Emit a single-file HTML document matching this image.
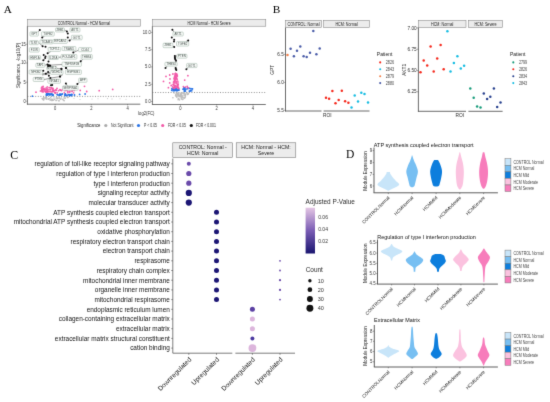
<!DOCTYPE html>
<html><head><meta charset="utf-8"><style>
html,body{margin:0;padding:0;background:#fff;}
body{width:550px;height:402px;overflow:hidden;font-family:"Liberation Sans", sans-serif;}
svg{display:block;}
</style></head><body>
<svg width="550" height="402" viewBox="0 0 550 402">
<defs><filter id="soft" x="0" y="0" width="550" height="402" filterUnits="userSpaceOnUse" color-interpolation-filters="sRGB"><feConvolveMatrix order="3" kernelMatrix="1 8 1 8 64 8 1 8 1" divisor="100" edgeMode="duplicate"/></filter></defs>
<g filter="url(#soft)">
<rect width="550" height="402" fill="#fff"/>
<text x="3.80" y="12.80" font-size="11.2" text-anchor="start" fill="#000" font-family='"Liberation Serif", serif' >A</text>
<text x="272.70" y="12.80" font-size="11.3" text-anchor="start" fill="#000" font-family='"Liberation Serif", serif' >B</text>
<text x="10.30" y="158.90" font-size="11.8" text-anchor="start" fill="#000" font-family='"Liberation Serif", serif' >C</text>
<text x="345.90" y="158.30" font-size="11.5" text-anchor="start" fill="#000" font-family='"Liberation Serif", serif' >D</text>
<rect x="27.40" y="19.60" width="112.90" height="6.60" fill="#ececec" stroke="#7a7a7a" stroke-width="0.5" />
<text x="0.00" y="0.00" font-size="4.5" text-anchor="middle" fill="#222" font-family='"Liberation Sans", sans-serif' transform="translate(83.85,24.52) scale(0.7778,1)" >CONTROL Normal - HCM Normal</text>
<line x1="27.40" y1="26.20" x2="27.40" y2="104.60" stroke="#5a5a5a" stroke-width="0.85" />
<line x1="27.00" y1="104.20" x2="140.30" y2="104.20" stroke="#5a5a5a" stroke-width="0.85" />
<line x1="26.20" y1="44.30" x2="27.40" y2="44.30" stroke="#444" stroke-width="0.5" />
<text x="0.00" y="0.00" font-size="4.5" text-anchor="end" fill="#333" font-family='"Liberation Sans", sans-serif' transform="translate(25.80,45.75) scale(0.9111,1)" >15</text>
<line x1="26.20" y1="63.00" x2="27.40" y2="63.00" stroke="#444" stroke-width="0.5" />
<text x="0.00" y="0.00" font-size="4.5" text-anchor="end" fill="#333" font-family='"Liberation Sans", sans-serif' transform="translate(25.80,64.45) scale(0.9111,1)" >10</text>
<line x1="26.20" y1="82.20" x2="27.40" y2="82.20" stroke="#444" stroke-width="0.5" />
<text x="0.00" y="0.00" font-size="4.5" text-anchor="end" fill="#333" font-family='"Liberation Sans", sans-serif' transform="translate(25.80,83.65) scale(0.9111,1)" >5</text>
<line x1="26.20" y1="101.20" x2="27.40" y2="101.20" stroke="#444" stroke-width="0.5" />
<text x="0.00" y="0.00" font-size="4.5" text-anchor="end" fill="#333" font-family='"Liberation Sans", sans-serif' transform="translate(25.80,102.65) scale(0.9111,1)" >0</text>
<line x1="55.20" y1="104.20" x2="55.20" y2="105.40" stroke="#444" stroke-width="0.5" />
<text x="0.00" y="0.00" font-size="4.5" text-anchor="middle" fill="#333" font-family='"Liberation Sans", sans-serif' transform="translate(55.20,109.80) scale(0.9111,1)" >0</text>
<line x1="91.30" y1="104.20" x2="91.30" y2="105.40" stroke="#444" stroke-width="0.5" />
<text x="0.00" y="0.00" font-size="4.5" text-anchor="middle" fill="#333" font-family='"Liberation Sans", sans-serif' transform="translate(91.30,109.80) scale(0.9111,1)" >2</text>
<line x1="127.60" y1="104.20" x2="127.60" y2="105.40" stroke="#444" stroke-width="0.5" />
<text x="0.00" y="0.00" font-size="4.5" text-anchor="middle" fill="#333" font-family='"Liberation Sans", sans-serif' transform="translate(127.60,109.80) scale(0.9111,1)" >4</text>
<rect x="152.40" y="19.60" width="113.40" height="6.60" fill="#ececec" stroke="#7a7a7a" stroke-width="0.5" />
<text x="0.00" y="0.00" font-size="4.5" text-anchor="middle" fill="#222" font-family='"Liberation Sans", sans-serif' transform="translate(209.10,24.52) scale(0.7778,1)" >HCM Normal - HCM Severe</text>
<line x1="152.40" y1="26.20" x2="152.40" y2="104.90" stroke="#5a5a5a" stroke-width="0.85" />
<line x1="152.00" y1="104.50" x2="265.80" y2="104.50" stroke="#5a5a5a" stroke-width="0.85" />
<line x1="151.20" y1="32.40" x2="152.40" y2="32.40" stroke="#444" stroke-width="0.5" />
<text x="0.00" y="0.00" font-size="4.5" text-anchor="end" fill="#333" font-family='"Liberation Sans", sans-serif' transform="translate(150.80,33.85) scale(0.9111,1)" >10.0</text>
<line x1="151.20" y1="49.70" x2="152.40" y2="49.70" stroke="#444" stroke-width="0.5" />
<text x="0.00" y="0.00" font-size="4.5" text-anchor="end" fill="#333" font-family='"Liberation Sans", sans-serif' transform="translate(150.80,51.15) scale(0.9111,1)" >7.5</text>
<line x1="151.20" y1="66.90" x2="152.40" y2="66.90" stroke="#444" stroke-width="0.5" />
<text x="0.00" y="0.00" font-size="4.5" text-anchor="end" fill="#333" font-family='"Liberation Sans", sans-serif' transform="translate(150.80,68.35) scale(0.9111,1)" >5.0</text>
<line x1="151.20" y1="84.30" x2="152.40" y2="84.30" stroke="#444" stroke-width="0.5" />
<text x="0.00" y="0.00" font-size="4.5" text-anchor="end" fill="#333" font-family='"Liberation Sans", sans-serif' transform="translate(150.80,85.75) scale(0.9111,1)" >2.5</text>
<line x1="151.20" y1="101.50" x2="152.40" y2="101.50" stroke="#444" stroke-width="0.5" />
<text x="0.00" y="0.00" font-size="4.5" text-anchor="end" fill="#333" font-family='"Liberation Sans", sans-serif' transform="translate(150.80,102.95) scale(0.9111,1)" >0.0</text>
<line x1="180.50" y1="104.50" x2="180.50" y2="105.70" stroke="#444" stroke-width="0.5" />
<text x="0.00" y="0.00" font-size="4.5" text-anchor="middle" fill="#333" font-family='"Liberation Sans", sans-serif' transform="translate(180.50,110.10) scale(0.9111,1)" >0</text>
<line x1="216.70" y1="104.50" x2="216.70" y2="105.70" stroke="#444" stroke-width="0.5" />
<text x="0.00" y="0.00" font-size="4.5" text-anchor="middle" fill="#333" font-family='"Liberation Sans", sans-serif' transform="translate(216.70,110.10) scale(0.9111,1)" >2</text>
<line x1="253.00" y1="104.50" x2="253.00" y2="105.70" stroke="#444" stroke-width="0.5" />
<text x="0.00" y="0.00" font-size="4.5" text-anchor="middle" fill="#333" font-family='"Liberation Sans", sans-serif' transform="translate(253.00,110.10) scale(0.9111,1)" >4</text>
<text x="0.00" y="0.00" font-size="4.5" text-anchor="middle" fill="#333" font-family='"Liberation Sans", sans-serif' transform="translate(20.30,65.30) rotate(-90)" >Significance, -log10(P)</text>
<text x="0.00" y="0.00" font-size="4.5" text-anchor="middle" fill="#333" font-family='"Liberation Sans", sans-serif' transform="translate(146.30,115.00) scale(0.9333,1)" >log2(FC)</text>
<line x1="27.40" y1="96.40" x2="140.30" y2="96.40" stroke="#666" stroke-width="0.7" stroke-dasharray="1.0,1.6"/>
<line x1="152.40" y1="92.50" x2="265.80" y2="92.50" stroke="#666" stroke-width="0.7" stroke-dasharray="1.0,1.6"/>
<circle cx="50.58" cy="97.50" r="0.80" fill="#bdbdbd" fill-opacity="0.9"/>
<circle cx="59.25" cy="97.19" r="0.80" fill="#bdbdbd" fill-opacity="0.9"/>
<circle cx="56.20" cy="98.36" r="0.80" fill="#bdbdbd" fill-opacity="0.9"/>
<circle cx="43.54" cy="98.93" r="0.80" fill="#bdbdbd" fill-opacity="0.9"/>
<circle cx="42.99" cy="98.63" r="0.80" fill="#bdbdbd" fill-opacity="0.9"/>
<circle cx="43.85" cy="97.26" r="0.80" fill="#bdbdbd" fill-opacity="0.9"/>
<circle cx="53.25" cy="100.21" r="0.80" fill="#bdbdbd" fill-opacity="0.9"/>
<circle cx="45.28" cy="97.79" r="0.80" fill="#bdbdbd" fill-opacity="0.9"/>
<circle cx="58.63" cy="100.69" r="0.80" fill="#bdbdbd" fill-opacity="0.9"/>
<circle cx="57.29" cy="98.49" r="0.80" fill="#bdbdbd" fill-opacity="0.9"/>
<circle cx="67.87" cy="97.09" r="0.80" fill="#bdbdbd" fill-opacity="0.9"/>
<circle cx="64.75" cy="98.06" r="0.80" fill="#bdbdbd" fill-opacity="0.9"/>
<circle cx="45.82" cy="97.37" r="0.80" fill="#bdbdbd" fill-opacity="0.9"/>
<circle cx="50.17" cy="100.16" r="0.80" fill="#bdbdbd" fill-opacity="0.9"/>
<circle cx="46.79" cy="99.23" r="0.80" fill="#bdbdbd" fill-opacity="0.9"/>
<circle cx="58.93" cy="98.39" r="0.80" fill="#bdbdbd" fill-opacity="0.9"/>
<circle cx="56.52" cy="97.15" r="0.80" fill="#bdbdbd" fill-opacity="0.9"/>
<circle cx="43.58" cy="97.72" r="0.80" fill="#bdbdbd" fill-opacity="0.9"/>
<circle cx="60.03" cy="98.61" r="0.80" fill="#bdbdbd" fill-opacity="0.9"/>
<circle cx="50.32" cy="99.24" r="0.80" fill="#bdbdbd" fill-opacity="0.9"/>
<circle cx="54.01" cy="98.10" r="0.80" fill="#bdbdbd" fill-opacity="0.9"/>
<circle cx="63.05" cy="99.70" r="0.80" fill="#bdbdbd" fill-opacity="0.9"/>
<circle cx="48.47" cy="99.20" r="0.80" fill="#bdbdbd" fill-opacity="0.9"/>
<circle cx="55.92" cy="100.40" r="0.80" fill="#bdbdbd" fill-opacity="0.9"/>
<circle cx="61.33" cy="98.05" r="0.80" fill="#bdbdbd" fill-opacity="0.9"/>
<circle cx="67.97" cy="97.37" r="0.80" fill="#bdbdbd" fill-opacity="0.9"/>
<circle cx="53.08" cy="99.93" r="0.80" fill="#bdbdbd" fill-opacity="0.9"/>
<circle cx="46.03" cy="98.86" r="0.80" fill="#bdbdbd" fill-opacity="0.9"/>
<circle cx="43.04" cy="99.57" r="0.80" fill="#bdbdbd" fill-opacity="0.9"/>
<circle cx="62.26" cy="99.19" r="0.80" fill="#bdbdbd" fill-opacity="0.9"/>
<circle cx="65.20" cy="98.15" r="0.80" fill="#bdbdbd" fill-opacity="0.9"/>
<circle cx="60.43" cy="99.28" r="0.80" fill="#bdbdbd" fill-opacity="0.9"/>
<circle cx="57.37" cy="98.72" r="0.80" fill="#bdbdbd" fill-opacity="0.9"/>
<circle cx="64.26" cy="100.68" r="0.80" fill="#bdbdbd" fill-opacity="0.9"/>
<circle cx="54.56" cy="99.56" r="0.80" fill="#bdbdbd" fill-opacity="0.9"/>
<circle cx="43.61" cy="99.71" r="0.80" fill="#bdbdbd" fill-opacity="0.9"/>
<circle cx="59.15" cy="100.87" r="0.80" fill="#bdbdbd" fill-opacity="0.9"/>
<circle cx="63.78" cy="98.04" r="0.80" fill="#bdbdbd" fill-opacity="0.9"/>
<circle cx="52.22" cy="99.57" r="0.80" fill="#bdbdbd" fill-opacity="0.9"/>
<circle cx="42.60" cy="98.75" r="0.80" fill="#bdbdbd" fill-opacity="0.9"/>
<circle cx="46.45" cy="97.37" r="0.80" fill="#bdbdbd" fill-opacity="0.9"/>
<circle cx="43.56" cy="99.97" r="0.80" fill="#bdbdbd" fill-opacity="0.9"/>
<circle cx="45.43" cy="97.89" r="0.80" fill="#bdbdbd" fill-opacity="0.9"/>
<circle cx="52.36" cy="100.39" r="0.80" fill="#bdbdbd" fill-opacity="0.9"/>
<circle cx="44.14" cy="98.70" r="0.80" fill="#bdbdbd" fill-opacity="0.9"/>
<circle cx="56.56" cy="100.43" r="0.80" fill="#bdbdbd" fill-opacity="0.9"/>
<circle cx="63.71" cy="100.36" r="0.80" fill="#bdbdbd" fill-opacity="0.9"/>
<circle cx="49.38" cy="98.56" r="0.80" fill="#bdbdbd" fill-opacity="0.9"/>
<circle cx="51.51" cy="100.44" r="0.80" fill="#bdbdbd" fill-opacity="0.9"/>
<circle cx="67.38" cy="97.50" r="0.80" fill="#bdbdbd" fill-opacity="0.9"/>
<circle cx="46.67" cy="97.83" r="0.80" fill="#bdbdbd" fill-opacity="0.9"/>
<circle cx="48.18" cy="98.84" r="0.80" fill="#bdbdbd" fill-opacity="0.9"/>
<circle cx="57.61" cy="97.95" r="0.80" fill="#bdbdbd" fill-opacity="0.9"/>
<circle cx="42.11" cy="98.58" r="0.80" fill="#bdbdbd" fill-opacity="0.9"/>
<circle cx="51.79" cy="99.17" r="0.80" fill="#bdbdbd" fill-opacity="0.9"/>
<circle cx="107.50" cy="98.60" r="0.55" fill="#c8c8c8" />
<circle cx="112.00" cy="98.90" r="0.55" fill="#c8c8c8" />
<circle cx="120.00" cy="98.70" r="0.55" fill="#c8c8c8" />
<circle cx="126.00" cy="99.20" r="0.55" fill="#c8c8c8" />
<circle cx="92.00" cy="99.00" r="0.55" fill="#c8c8c8" />
<circle cx="98.00" cy="98.80" r="0.55" fill="#c8c8c8" />
<circle cx="80.00" cy="99.50" r="0.55" fill="#c8c8c8" />
<circle cx="74.00" cy="98.20" r="0.55" fill="#c8c8c8" />
<circle cx="53.17" cy="94.94" r="0.90" fill="#2a74e6" />
<circle cx="50.06" cy="94.83" r="0.90" fill="#2a74e6" />
<circle cx="51.20" cy="93.98" r="0.90" fill="#2a74e6" />
<circle cx="52.79" cy="95.07" r="0.90" fill="#2a74e6" />
<circle cx="52.61" cy="95.10" r="0.90" fill="#2a74e6" />
<circle cx="49.19" cy="94.50" r="0.90" fill="#2a74e6" />
<circle cx="47.14" cy="94.85" r="0.90" fill="#2a74e6" />
<circle cx="46.84" cy="94.00" r="0.90" fill="#2a74e6" />
<circle cx="47.88" cy="94.14" r="0.90" fill="#2a74e6" />
<circle cx="48.81" cy="93.98" r="0.90" fill="#2a74e6" />
<circle cx="46.40" cy="94.13" r="0.90" fill="#2a74e6" />
<circle cx="47.12" cy="94.45" r="0.90" fill="#2a74e6" />
<circle cx="46.58" cy="95.21" r="0.90" fill="#2a74e6" />
<circle cx="50.76" cy="94.12" r="0.90" fill="#2a74e6" />
<circle cx="48.19" cy="94.42" r="0.90" fill="#2a74e6" />
<circle cx="48.99" cy="94.08" r="0.90" fill="#2a74e6" />
<circle cx="52.43" cy="95.39" r="0.90" fill="#2a74e6" />
<circle cx="49.71" cy="94.63" r="0.90" fill="#2a74e6" />
<circle cx="47.01" cy="94.05" r="0.90" fill="#2a74e6" />
<circle cx="48.83" cy="94.30" r="0.90" fill="#2a74e6" />
<circle cx="52.28" cy="94.14" r="0.90" fill="#2a74e6" />
<circle cx="46.56" cy="95.33" r="0.90" fill="#2a74e6" />
<circle cx="65.05" cy="94.15" r="0.90" fill="#2a74e6" />
<circle cx="65.28" cy="93.95" r="0.90" fill="#2a74e6" />
<circle cx="65.04" cy="95.56" r="0.90" fill="#2a74e6" />
<circle cx="70.34" cy="95.08" r="0.90" fill="#2a74e6" />
<circle cx="60.83" cy="94.52" r="0.90" fill="#2a74e6" />
<circle cx="59.34" cy="95.21" r="0.90" fill="#2a74e6" />
<circle cx="65.11" cy="95.22" r="0.90" fill="#2a74e6" />
<circle cx="61.91" cy="94.28" r="0.90" fill="#2a74e6" />
<circle cx="69.52" cy="95.57" r="0.90" fill="#2a74e6" />
<circle cx="70.17" cy="95.27" r="0.90" fill="#2a74e6" />
<circle cx="69.63" cy="95.16" r="0.90" fill="#2a74e6" />
<circle cx="60.28" cy="94.78" r="0.90" fill="#2a74e6" />
<circle cx="62.32" cy="93.95" r="0.90" fill="#2a74e6" />
<circle cx="57.14" cy="94.38" r="0.90" fill="#2a74e6" />
<circle cx="60.79" cy="95.08" r="0.90" fill="#2a74e6" />
<circle cx="71.81" cy="94.66" r="0.90" fill="#2a74e6" />
<circle cx="71.50" cy="95.58" r="0.90" fill="#2a74e6" />
<circle cx="71.79" cy="94.52" r="0.90" fill="#2a74e6" />
<circle cx="60.18" cy="94.29" r="0.90" fill="#2a74e6" />
<circle cx="59.81" cy="94.25" r="0.90" fill="#2a74e6" />
<circle cx="66.56" cy="95.43" r="0.90" fill="#2a74e6" />
<circle cx="69.98" cy="94.72" r="0.90" fill="#2a74e6" />
<circle cx="67.02" cy="95.26" r="0.90" fill="#2a74e6" />
<circle cx="58.04" cy="95.02" r="0.90" fill="#2a74e6" />
<circle cx="71.07" cy="95.23" r="0.90" fill="#2a74e6" />
<circle cx="68.55" cy="94.71" r="0.90" fill="#2a74e6" />
<circle cx="32.40" cy="96.20" r="0.90" fill="#2a74e6" />
<circle cx="79.60" cy="94.40" r="0.90" fill="#2a74e6" />
<circle cx="85.10" cy="94.00" r="0.90" fill="#2a74e6" />
<circle cx="74.50" cy="95.00" r="0.90" fill="#2a74e6" />
<circle cx="42.74" cy="91.06" r="0.90" fill="#f25aa8" fill-opacity="0.9"/>
<circle cx="44.76" cy="91.12" r="0.90" fill="#f25aa8" fill-opacity="0.9"/>
<circle cx="53.13" cy="88.94" r="0.90" fill="#f25aa8" fill-opacity="0.9"/>
<circle cx="45.66" cy="91.91" r="0.90" fill="#f25aa8" fill-opacity="0.9"/>
<circle cx="49.89" cy="87.72" r="0.90" fill="#f25aa8" fill-opacity="0.9"/>
<circle cx="42.06" cy="87.62" r="0.90" fill="#f25aa8" fill-opacity="0.9"/>
<circle cx="52.25" cy="91.16" r="0.90" fill="#f25aa8" fill-opacity="0.9"/>
<circle cx="42.31" cy="91.26" r="0.90" fill="#f25aa8" fill-opacity="0.9"/>
<circle cx="53.24" cy="90.35" r="0.90" fill="#f25aa8" fill-opacity="0.9"/>
<circle cx="44.99" cy="89.76" r="0.90" fill="#f25aa8" fill-opacity="0.9"/>
<circle cx="42.12" cy="86.88" r="0.90" fill="#f25aa8" fill-opacity="0.9"/>
<circle cx="53.12" cy="90.31" r="0.90" fill="#f25aa8" fill-opacity="0.9"/>
<circle cx="47.30" cy="91.84" r="0.90" fill="#f25aa8" fill-opacity="0.9"/>
<circle cx="46.08" cy="91.51" r="0.90" fill="#f25aa8" fill-opacity="0.9"/>
<circle cx="51.22" cy="87.94" r="0.90" fill="#f25aa8" fill-opacity="0.9"/>
<circle cx="43.70" cy="88.38" r="0.90" fill="#f25aa8" fill-opacity="0.9"/>
<circle cx="43.55" cy="89.97" r="0.90" fill="#f25aa8" fill-opacity="0.9"/>
<circle cx="43.80" cy="89.06" r="0.90" fill="#f25aa8" fill-opacity="0.9"/>
<circle cx="42.12" cy="91.71" r="0.90" fill="#f25aa8" fill-opacity="0.9"/>
<circle cx="45.03" cy="89.27" r="0.90" fill="#f25aa8" fill-opacity="0.9"/>
<circle cx="48.04" cy="91.68" r="0.90" fill="#f25aa8" fill-opacity="0.9"/>
<circle cx="45.91" cy="91.76" r="0.90" fill="#f25aa8" fill-opacity="0.9"/>
<circle cx="46.97" cy="89.67" r="0.90" fill="#f25aa8" fill-opacity="0.9"/>
<circle cx="47.26" cy="86.90" r="0.90" fill="#f25aa8" fill-opacity="0.9"/>
<circle cx="46.17" cy="87.79" r="0.90" fill="#f25aa8" fill-opacity="0.9"/>
<circle cx="40.45" cy="91.12" r="0.90" fill="#f25aa8" fill-opacity="0.9"/>
<circle cx="42.66" cy="89.36" r="0.90" fill="#f25aa8" fill-opacity="0.9"/>
<circle cx="49.90" cy="89.80" r="0.90" fill="#f25aa8" fill-opacity="0.9"/>
<circle cx="44.67" cy="89.60" r="0.90" fill="#f25aa8" fill-opacity="0.9"/>
<circle cx="47.68" cy="91.04" r="0.90" fill="#f25aa8" fill-opacity="0.9"/>
<circle cx="41.79" cy="89.83" r="0.90" fill="#f25aa8" fill-opacity="0.9"/>
<circle cx="43.66" cy="88.30" r="0.90" fill="#f25aa8" fill-opacity="0.9"/>
<circle cx="50.52" cy="89.54" r="0.90" fill="#f25aa8" fill-opacity="0.9"/>
<circle cx="47.76" cy="90.90" r="0.90" fill="#f25aa8" fill-opacity="0.9"/>
<circle cx="52.35" cy="89.19" r="0.90" fill="#f25aa8" fill-opacity="0.9"/>
<circle cx="48.42" cy="89.53" r="0.90" fill="#f25aa8" fill-opacity="0.9"/>
<circle cx="47.11" cy="90.54" r="0.90" fill="#f25aa8" fill-opacity="0.9"/>
<circle cx="46.33" cy="89.68" r="0.90" fill="#f25aa8" fill-opacity="0.9"/>
<circle cx="46.66" cy="91.88" r="0.90" fill="#f25aa8" fill-opacity="0.9"/>
<circle cx="49.56" cy="91.53" r="0.90" fill="#f25aa8" fill-opacity="0.9"/>
<circle cx="52.74" cy="88.20" r="0.90" fill="#f25aa8" fill-opacity="0.9"/>
<circle cx="47.73" cy="91.89" r="0.90" fill="#f25aa8" fill-opacity="0.9"/>
<circle cx="51.40" cy="87.54" r="0.90" fill="#f25aa8" fill-opacity="0.9"/>
<circle cx="41.99" cy="89.19" r="0.90" fill="#f25aa8" fill-opacity="0.9"/>
<circle cx="41.35" cy="88.10" r="0.90" fill="#f25aa8" fill-opacity="0.9"/>
<circle cx="41.36" cy="90.42" r="0.90" fill="#f25aa8" fill-opacity="0.9"/>
<circle cx="50.67" cy="91.64" r="0.90" fill="#f25aa8" fill-opacity="0.9"/>
<circle cx="42.42" cy="90.67" r="0.90" fill="#f25aa8" fill-opacity="0.9"/>
<circle cx="49.05" cy="87.57" r="0.90" fill="#f25aa8" fill-opacity="0.9"/>
<circle cx="51.97" cy="92.02" r="0.90" fill="#f25aa8" fill-opacity="0.9"/>
<circle cx="43.28" cy="91.94" r="0.90" fill="#f25aa8" fill-opacity="0.9"/>
<circle cx="45.62" cy="89.43" r="0.90" fill="#f25aa8" fill-opacity="0.9"/>
<circle cx="53.37" cy="91.30" r="0.90" fill="#f25aa8" fill-opacity="0.9"/>
<circle cx="42.52" cy="89.13" r="0.90" fill="#f25aa8" fill-opacity="0.9"/>
<circle cx="47.15" cy="88.63" r="0.90" fill="#f25aa8" fill-opacity="0.9"/>
<circle cx="58.49" cy="90.68" r="0.85" fill="#f25aa8" fill-opacity="0.9"/>
<circle cx="71.91" cy="89.67" r="0.85" fill="#f25aa8" fill-opacity="0.9"/>
<circle cx="67.63" cy="91.10" r="0.85" fill="#f25aa8" fill-opacity="0.9"/>
<circle cx="53.96" cy="90.73" r="0.85" fill="#f25aa8" fill-opacity="0.9"/>
<circle cx="69.41" cy="91.34" r="0.85" fill="#f25aa8" fill-opacity="0.9"/>
<circle cx="55.14" cy="92.95" r="0.85" fill="#f25aa8" fill-opacity="0.9"/>
<circle cx="73.60" cy="92.90" r="0.85" fill="#f25aa8" fill-opacity="0.9"/>
<circle cx="56.17" cy="90.50" r="0.85" fill="#f25aa8" fill-opacity="0.9"/>
<circle cx="54.51" cy="92.25" r="0.85" fill="#f25aa8" fill-opacity="0.9"/>
<circle cx="60.40" cy="90.04" r="0.85" fill="#f25aa8" fill-opacity="0.9"/>
<circle cx="64.27" cy="92.70" r="0.85" fill="#f25aa8" fill-opacity="0.9"/>
<circle cx="74.38" cy="90.48" r="0.85" fill="#f25aa8" fill-opacity="0.9"/>
<circle cx="57.31" cy="92.73" r="0.85" fill="#f25aa8" fill-opacity="0.9"/>
<circle cx="68.05" cy="91.98" r="0.85" fill="#f25aa8" fill-opacity="0.9"/>
<circle cx="55.78" cy="89.80" r="0.85" fill="#f25aa8" fill-opacity="0.9"/>
<circle cx="71.05" cy="91.05" r="0.85" fill="#f25aa8" fill-opacity="0.9"/>
<circle cx="55.35" cy="92.79" r="0.85" fill="#f25aa8" fill-opacity="0.9"/>
<circle cx="69.68" cy="92.33" r="0.85" fill="#f25aa8" fill-opacity="0.9"/>
<circle cx="55.64" cy="92.51" r="0.85" fill="#f25aa8" fill-opacity="0.9"/>
<circle cx="55.20" cy="92.53" r="0.85" fill="#f25aa8" fill-opacity="0.9"/>
<circle cx="65.07" cy="90.75" r="0.85" fill="#f25aa8" fill-opacity="0.9"/>
<circle cx="67.60" cy="92.75" r="0.85" fill="#f25aa8" fill-opacity="0.9"/>
<circle cx="60.33" cy="90.04" r="0.85" fill="#f25aa8" fill-opacity="0.9"/>
<circle cx="66.94" cy="90.41" r="0.85" fill="#f25aa8" fill-opacity="0.9"/>
<circle cx="56.29" cy="90.15" r="0.85" fill="#f25aa8" fill-opacity="0.9"/>
<circle cx="54.78" cy="90.29" r="0.85" fill="#f25aa8" fill-opacity="0.9"/>
<circle cx="61.46" cy="90.64" r="0.85" fill="#f25aa8" fill-opacity="0.9"/>
<circle cx="72.87" cy="90.59" r="0.85" fill="#f25aa8" fill-opacity="0.9"/>
<circle cx="66.25" cy="90.20" r="0.85" fill="#f25aa8" fill-opacity="0.9"/>
<circle cx="62.35" cy="89.66" r="0.85" fill="#f25aa8" fill-opacity="0.9"/>
<circle cx="59.89" cy="89.65" r="0.85" fill="#f25aa8" fill-opacity="0.9"/>
<circle cx="72.19" cy="91.47" r="0.85" fill="#f25aa8" fill-opacity="0.9"/>
<circle cx="36.00" cy="92.20" r="0.90" fill="#f25aa8" />
<circle cx="43.10" cy="86.30" r="0.90" fill="#f25aa8" />
<circle cx="84.50" cy="86.30" r="0.90" fill="#f25aa8" />
<circle cx="86.70" cy="91.50" r="0.90" fill="#f25aa8" />
<circle cx="80.20" cy="90.40" r="0.90" fill="#f25aa8" />
<circle cx="99.20" cy="90.70" r="0.90" fill="#f25aa8" />
<circle cx="112.70" cy="89.40" r="0.90" fill="#f25aa8" />
<circle cx="57.00" cy="88.50" r="0.90" fill="#f25aa8" />
<line x1="39.80" y1="29.90" x2="38.40" y2="31.80" stroke="#222" stroke-width="0.45" />
<line x1="42.20" y1="37.60" x2="44.50" y2="36.10" stroke="#222" stroke-width="0.45" />
<line x1="64.30" y1="30.00" x2="66.90" y2="31.40" stroke="#222" stroke-width="0.45" />
<line x1="69.60" y1="40.60" x2="71.60" y2="38.80" stroke="#222" stroke-width="0.45" />
<line x1="73.30" y1="52.50" x2="78.50" y2="50.20" stroke="#222" stroke-width="0.45" />
<line x1="47.60" y1="53.30" x2="51.00" y2="51.40" stroke="#222" stroke-width="0.45" />
<line x1="49.50" y1="65.20" x2="62.00" y2="64.50" stroke="#222" stroke-width="0.45" />
<line x1="61.40" y1="68.80" x2="56.70" y2="68.60" stroke="#222" stroke-width="0.45" />
<line x1="42.00" y1="74.00" x2="50.50" y2="72.30" stroke="#222" stroke-width="0.45" />
<line x1="42.00" y1="75.00" x2="50.50" y2="73.50" stroke="#222" stroke-width="0.45" />
<line x1="50.40" y1="78.10" x2="60.10" y2="76.60" stroke="#222" stroke-width="0.45" />
<line x1="44.00" y1="79.60" x2="50.40" y2="78.10" stroke="#222" stroke-width="0.45" />
<line x1="60.10" y1="76.60" x2="63.00" y2="74.40" stroke="#222" stroke-width="0.45" />
<line x1="80.70" y1="61.20" x2="83.00" y2="59.20" stroke="#222" stroke-width="0.45" />
<line x1="65.90" y1="67.90" x2="68.00" y2="69.90" stroke="#222" stroke-width="0.45" />
<line x1="65.90" y1="83.60" x2="67.50" y2="85.80" stroke="#222" stroke-width="0.45" />
<line x1="77.40" y1="84.00" x2="79.50" y2="82.30" stroke="#222" stroke-width="0.45" />
<line x1="58.60" y1="57.40" x2="61.00" y2="57.00" stroke="#222" stroke-width="0.45" />
<line x1="44.80" y1="65.20" x2="47.50" y2="64.60" stroke="#222" stroke-width="0.45" />
<line x1="38.90" y1="42.60" x2="42.60" y2="46.30" stroke="#222" stroke-width="0.45" />
<line x1="43.30" y1="60.20" x2="45.00" y2="59.50" stroke="#222" stroke-width="0.45" />
<rect x="29.90" y="31.80" width="8.50" height="4.30" fill="#f7faf8" stroke="#9db2a5" stroke-width="0.5" rx="0.9"/>
<text x="34.15" y="34.95" font-size="2.9" text-anchor="middle" fill="#4a554f" font-family='"Liberation Sans", sans-serif' >GPT</text>
<rect x="41.40" y="31.80" width="12.90" height="4.30" fill="#f7faf8" stroke="#9db2a5" stroke-width="0.5" rx="0.9"/>
<text x="47.85" y="34.95" font-size="2.9" text-anchor="middle" fill="#4a554f" font-family='"Liberation Sans", sans-serif' >TGFB2</text>
<rect x="55.50" y="27.90" width="9.00" height="4.10" fill="#f7faf8" stroke="#9db2a5" stroke-width="0.5" rx="0.9"/>
<text x="60.00" y="30.95" font-size="2.9" text-anchor="middle" fill="#4a554f" font-family='"Liberation Sans", sans-serif' >ZEB1</text>
<rect x="69.90" y="27.90" width="10.10" height="4.10" fill="#f7faf8" stroke="#9db2a5" stroke-width="0.5" rx="0.9"/>
<text x="74.95" y="30.95" font-size="2.9" text-anchor="middle" fill="#4a554f" font-family='"Liberation Sans", sans-serif' >AKT1</text>
<rect x="71.40" y="35.30" width="10.80" height="4.50" fill="#f7faf8" stroke="#9db2a5" stroke-width="0.5" rx="0.9"/>
<text x="76.80" y="38.55" font-size="2.9" text-anchor="middle" fill="#4a554f" font-family='"Liberation Sans", sans-serif' >GOT1</text>
<rect x="29.30" y="40.60" width="9.10" height="4.10" fill="#f7faf8" stroke="#9db2a5" stroke-width="0.5" rx="0.9"/>
<text x="33.85" y="43.65" font-size="2.9" text-anchor="middle" fill="#4a554f" font-family='"Liberation Sans", sans-serif' >TLR7</text>
<rect x="39.90" y="39.80" width="13.10" height="4.10" fill="#f7faf8" stroke="#9db2a5" stroke-width="0.5" rx="0.9"/>
<text x="46.45" y="42.85" font-size="2.9" text-anchor="middle" fill="#4a554f" font-family='"Liberation Sans", sans-serif' >TICAM1</text>
<rect x="53.00" y="39.40" width="14.30" height="4.00" fill="#f7faf8" stroke="#9db2a5" stroke-width="0.5" rx="0.9"/>
<text x="60.15" y="42.40" font-size="2.9" text-anchor="middle" fill="#4a554f" font-family='"Liberation Sans", sans-serif' >EIF2AK4</text>
<rect x="29.30" y="47.60" width="9.90" height="4.50" fill="#f7faf8" stroke="#9db2a5" stroke-width="0.5" rx="0.9"/>
<text x="34.25" y="50.85" font-size="2.9" text-anchor="middle" fill="#4a554f" font-family='"Liberation Sans", sans-serif' >F13R</text>
<rect x="48.10" y="47.30" width="12.60" height="4.10" fill="#f7faf8" stroke="#9db2a5" stroke-width="0.5" rx="0.9"/>
<text x="54.40" y="50.35" font-size="2.9" text-anchor="middle" fill="#4a554f" font-family='"Liberation Sans", sans-serif' >TCF7L1</text>
<rect x="62.10" y="46.50" width="13.80" height="4.10" fill="#f7faf8" stroke="#9db2a5" stroke-width="0.5" rx="0.9"/>
<text x="69.00" y="49.55" font-size="2.9" text-anchor="middle" fill="#4a554f" font-family='"Liberation Sans", sans-serif' >TRAM1</text>
<rect x="78.50" y="47.60" width="13.10" height="4.10" fill="#f7faf8" stroke="#9db2a5" stroke-width="0.5" rx="0.9"/>
<text x="85.05" y="50.65" font-size="2.9" text-anchor="middle" fill="#4a554f" font-family='"Liberation Sans", sans-serif' >CD44</text>
<rect x="29.10" y="55.60" width="11.60" height="3.90" fill="#f7faf8" stroke="#9db2a5" stroke-width="0.5" rx="0.9"/>
<text x="34.90" y="58.55" font-size="2.9" text-anchor="middle" fill="#4a554f" font-family='"Liberation Sans", sans-serif' >HNF1A</text>
<rect x="48.10" y="55.60" width="10.50" height="3.90" fill="#f7faf8" stroke="#9db2a5" stroke-width="0.5" rx="0.9"/>
<text x="53.35" y="58.55" font-size="2.9" text-anchor="middle" fill="#4a554f" font-family='"Liberation Sans", sans-serif' >IL2RA</text>
<rect x="61.00" y="54.50" width="15.90" height="4.70" fill="#f7faf8" stroke="#9db2a5" stroke-width="0.5" rx="0.9"/>
<text x="68.95" y="57.85" font-size="2.9" text-anchor="middle" fill="#4a554f" font-family='"Liberation Sans", sans-serif' >POU2AF1</text>
<rect x="81.10" y="54.50" width="11.20" height="4.70" fill="#f7faf8" stroke="#9db2a5" stroke-width="0.5" rx="0.9"/>
<text x="86.70" y="57.85" font-size="2.9" text-anchor="middle" fill="#4a554f" font-family='"Liberation Sans", sans-serif' >THBS4</text>
<rect x="35.80" y="63.20" width="9.00" height="4.10" fill="#f7faf8" stroke="#9db2a5" stroke-width="0.5" rx="0.9"/>
<text x="40.30" y="66.25" font-size="2.9" text-anchor="middle" fill="#4a554f" font-family='"Liberation Sans", sans-serif' >TAF1</text>
<rect x="62.00" y="62.00" width="19.40" height="4.40" fill="#f7faf8" stroke="#9db2a5" stroke-width="0.5" rx="0.9"/>
<text x="71.70" y="65.20" font-size="2.9" text-anchor="middle" fill="#4a554f" font-family='"Liberation Sans", sans-serif' >TNFRSF1B</text>
<rect x="46.70" y="66.60" width="10.00" height="3.40" fill="#f7faf8" stroke="#9db2a5" stroke-width="0.5" rx="0.9"/>
<text x="51.70" y="69.30" font-size="2.9" text-anchor="middle" fill="#4a554f" font-family='"Liberation Sans", sans-serif' >MYBL2</text>
<rect x="29.10" y="69.90" width="13.50" height="4.30" fill="#f7faf8" stroke="#9db2a5" stroke-width="0.5" rx="0.9"/>
<text x="35.85" y="73.05" font-size="2.9" text-anchor="middle" fill="#4a554f" font-family='"Liberation Sans", sans-serif' >NFKB2</text>
<rect x="50.40" y="70.30" width="12.70" height="4.10" fill="#f7faf8" stroke="#9db2a5" stroke-width="0.5" rx="0.9"/>
<text x="56.75" y="73.35" font-size="2.9" text-anchor="middle" fill="#4a554f" font-family='"Liberation Sans", sans-serif' >WDHD1</text>
<rect x="65.40" y="69.90" width="16.00" height="4.50" fill="#f7faf8" stroke="#9db2a5" stroke-width="0.5" rx="0.9"/>
<text x="73.40" y="73.15" font-size="2.9" text-anchor="middle" fill="#4a554f" font-family='"Liberation Sans", sans-serif' >HSP90B1</text>
<rect x="33.20" y="77.40" width="10.80" height="4.10" fill="#f7faf8" stroke="#9db2a5" stroke-width="0.5" rx="0.9"/>
<text x="38.60" y="80.45" font-size="2.9" text-anchor="middle" fill="#4a554f" font-family='"Liberation Sans", sans-serif' >PTEN</text>
<rect x="47.80" y="79.20" width="12.70" height="4.10" fill="#f7faf8" stroke="#9db2a5" stroke-width="0.5" rx="0.9"/>
<text x="54.15" y="82.25" font-size="2.9" text-anchor="middle" fill="#4a554f" font-family='"Liberation Sans", sans-serif' >NR4A1</text>
<rect x="78.70" y="78.10" width="8.30" height="4.20" fill="#f7faf8" stroke="#9db2a5" stroke-width="0.5" rx="0.9"/>
<text x="82.85" y="81.20" font-size="2.9" text-anchor="middle" fill="#4a554f" font-family='"Liberation Sans", sans-serif' >AFP</text>
<rect x="62.50" y="85.80" width="15.60" height="4.50" fill="#f7faf8" stroke="#9db2a5" stroke-width="0.5" rx="0.9"/>
<text x="70.30" y="89.05" font-size="2.9" text-anchor="middle" fill="#4a554f" font-family='"Liberation Sans", sans-serif' >SERPINA1</text>
<circle cx="39.80" cy="29.90" r="1.00" fill="#111" />
<circle cx="66.90" cy="31.40" r="1.00" fill="#111" />
<circle cx="67.80" cy="33.50" r="1.00" fill="#111" />
<circle cx="42.20" cy="37.60" r="1.00" fill="#111" />
<circle cx="67.80" cy="37.60" r="1.00" fill="#111" />
<circle cx="69.60" cy="40.60" r="1.00" fill="#111" />
<circle cx="42.60" cy="46.30" r="1.00" fill="#111" />
<circle cx="45.50" cy="46.70" r="1.00" fill="#111" />
<circle cx="47.60" cy="53.30" r="1.00" fill="#111" />
<circle cx="73.30" cy="52.50" r="1.00" fill="#111" />
<circle cx="43.70" cy="55.00" r="1.00" fill="#111" />
<circle cx="45.50" cy="56.60" r="1.00" fill="#111" />
<circle cx="45.20" cy="58.10" r="1.00" fill="#111" />
<circle cx="43.30" cy="60.20" r="1.00" fill="#111" />
<circle cx="48.50" cy="61.60" r="1.00" fill="#111" />
<circle cx="47.50" cy="64.60" r="1.00" fill="#111" />
<circle cx="48.50" cy="65.20" r="1.00" fill="#111" />
<circle cx="49.60" cy="65.50" r="1.00" fill="#111" />
<circle cx="50.20" cy="65.80" r="1.00" fill="#111" />
<circle cx="48.20" cy="65.90" r="1.00" fill="#111" />
<circle cx="43.30" cy="70.70" r="1.00" fill="#111" />
<circle cx="48.10" cy="72.00" r="1.00" fill="#111" />
<circle cx="45.90" cy="73.80" r="1.00" fill="#111" />
<circle cx="48.90" cy="75.70" r="1.00" fill="#111" />
<circle cx="50.40" cy="78.10" r="1.00" fill="#111" />
<circle cx="61.40" cy="68.80" r="1.00" fill="#111" />
<circle cx="60.10" cy="76.60" r="1.00" fill="#111" />
<circle cx="66.10" cy="68.00" r="1.00" fill="#111" />
<circle cx="80.70" cy="61.20" r="1.00" fill="#111" />
<circle cx="61.50" cy="68.90" r="1.00" fill="#111" />
<circle cx="65.90" cy="67.90" r="1.00" fill="#111" />
<circle cx="60.00" cy="76.40" r="1.00" fill="#111" />
<circle cx="65.90" cy="83.60" r="1.00" fill="#111" />
<circle cx="77.40" cy="84.00" r="1.00" fill="#111" />
<circle cx="51.00" cy="85.20" r="1.00" fill="#111" />
<circle cx="52.20" cy="85.00" r="1.00" fill="#111" />
<circle cx="176.53" cy="96.37" r="0.80" fill="#bdbdbd" fill-opacity="0.9"/>
<circle cx="188.45" cy="93.68" r="0.80" fill="#bdbdbd" fill-opacity="0.9"/>
<circle cx="181.42" cy="98.99" r="0.80" fill="#bdbdbd" fill-opacity="0.9"/>
<circle cx="179.79" cy="96.60" r="0.80" fill="#bdbdbd" fill-opacity="0.9"/>
<circle cx="178.98" cy="98.98" r="0.80" fill="#bdbdbd" fill-opacity="0.9"/>
<circle cx="184.81" cy="97.54" r="0.80" fill="#bdbdbd" fill-opacity="0.9"/>
<circle cx="179.98" cy="95.44" r="0.80" fill="#bdbdbd" fill-opacity="0.9"/>
<circle cx="177.59" cy="94.09" r="0.80" fill="#bdbdbd" fill-opacity="0.9"/>
<circle cx="178.01" cy="94.67" r="0.80" fill="#bdbdbd" fill-opacity="0.9"/>
<circle cx="178.19" cy="96.25" r="0.80" fill="#bdbdbd" fill-opacity="0.9"/>
<circle cx="176.02" cy="96.15" r="0.80" fill="#bdbdbd" fill-opacity="0.9"/>
<circle cx="178.45" cy="95.50" r="0.80" fill="#bdbdbd" fill-opacity="0.9"/>
<circle cx="181.09" cy="96.57" r="0.80" fill="#bdbdbd" fill-opacity="0.9"/>
<circle cx="176.72" cy="96.58" r="0.80" fill="#bdbdbd" fill-opacity="0.9"/>
<circle cx="174.17" cy="93.06" r="0.80" fill="#bdbdbd" fill-opacity="0.9"/>
<circle cx="178.37" cy="94.60" r="0.80" fill="#bdbdbd" fill-opacity="0.9"/>
<circle cx="182.87" cy="96.76" r="0.80" fill="#bdbdbd" fill-opacity="0.9"/>
<circle cx="179.73" cy="95.28" r="0.80" fill="#bdbdbd" fill-opacity="0.9"/>
<circle cx="185.09" cy="97.60" r="0.80" fill="#bdbdbd" fill-opacity="0.9"/>
<circle cx="181.57" cy="99.00" r="0.80" fill="#bdbdbd" fill-opacity="0.9"/>
<circle cx="182.84" cy="99.42" r="0.80" fill="#bdbdbd" fill-opacity="0.9"/>
<circle cx="184.43" cy="97.96" r="0.80" fill="#bdbdbd" fill-opacity="0.9"/>
<circle cx="177.18" cy="93.13" r="0.80" fill="#bdbdbd" fill-opacity="0.9"/>
<circle cx="175.63" cy="95.53" r="0.80" fill="#bdbdbd" fill-opacity="0.9"/>
<circle cx="182.44" cy="97.48" r="0.80" fill="#bdbdbd" fill-opacity="0.9"/>
<circle cx="183.52" cy="97.87" r="0.80" fill="#bdbdbd" fill-opacity="0.9"/>
<circle cx="181.33" cy="92.92" r="0.80" fill="#bdbdbd" fill-opacity="0.9"/>
<circle cx="181.55" cy="96.81" r="0.80" fill="#bdbdbd" fill-opacity="0.9"/>
<circle cx="184.05" cy="93.38" r="0.80" fill="#bdbdbd" fill-opacity="0.9"/>
<circle cx="185.29" cy="94.74" r="0.80" fill="#bdbdbd" fill-opacity="0.9"/>
<circle cx="185.17" cy="94.40" r="0.80" fill="#bdbdbd" fill-opacity="0.9"/>
<circle cx="181.40" cy="95.69" r="0.80" fill="#bdbdbd" fill-opacity="0.9"/>
<circle cx="181.16" cy="97.89" r="0.80" fill="#bdbdbd" fill-opacity="0.9"/>
<circle cx="183.78" cy="93.47" r="0.80" fill="#bdbdbd" fill-opacity="0.9"/>
<circle cx="175.86" cy="94.75" r="0.80" fill="#bdbdbd" fill-opacity="0.9"/>
<circle cx="185.39" cy="95.12" r="0.80" fill="#bdbdbd" fill-opacity="0.9"/>
<circle cx="182.58" cy="92.99" r="0.80" fill="#bdbdbd" fill-opacity="0.9"/>
<circle cx="184.25" cy="97.95" r="0.80" fill="#bdbdbd" fill-opacity="0.9"/>
<circle cx="184.31" cy="95.02" r="0.80" fill="#bdbdbd" fill-opacity="0.9"/>
<circle cx="181.76" cy="96.29" r="0.80" fill="#bdbdbd" fill-opacity="0.9"/>
<circle cx="180.96" cy="93.77" r="0.80" fill="#bdbdbd" fill-opacity="0.9"/>
<circle cx="187.80" cy="94.35" r="0.80" fill="#bdbdbd" fill-opacity="0.9"/>
<circle cx="180.69" cy="94.86" r="0.80" fill="#bdbdbd" fill-opacity="0.9"/>
<circle cx="176.87" cy="97.14" r="0.80" fill="#bdbdbd" fill-opacity="0.9"/>
<circle cx="181.28" cy="93.08" r="0.80" fill="#bdbdbd" fill-opacity="0.9"/>
<circle cx="180.71" cy="95.10" r="0.80" fill="#bdbdbd" fill-opacity="0.9"/>
<circle cx="175.75" cy="95.41" r="0.80" fill="#bdbdbd" fill-opacity="0.9"/>
<circle cx="178.56" cy="99.03" r="0.80" fill="#bdbdbd" fill-opacity="0.9"/>
<circle cx="186.93" cy="93.78" r="0.80" fill="#bdbdbd" fill-opacity="0.9"/>
<circle cx="179.46" cy="95.77" r="0.80" fill="#bdbdbd" fill-opacity="0.9"/>
<circle cx="179.27" cy="96.02" r="0.80" fill="#bdbdbd" fill-opacity="0.9"/>
<circle cx="177.90" cy="93.25" r="0.80" fill="#bdbdbd" fill-opacity="0.9"/>
<circle cx="178.07" cy="99.73" r="0.80" fill="#bdbdbd" fill-opacity="0.9"/>
<circle cx="177.49" cy="94.84" r="0.80" fill="#bdbdbd" fill-opacity="0.9"/>
<circle cx="181.68" cy="94.29" r="0.80" fill="#bdbdbd" fill-opacity="0.9"/>
<circle cx="179.47" cy="99.88" r="0.80" fill="#bdbdbd" fill-opacity="0.9"/>
<circle cx="185.01" cy="93.26" r="0.80" fill="#bdbdbd" fill-opacity="0.9"/>
<circle cx="185.22" cy="96.19" r="0.80" fill="#bdbdbd" fill-opacity="0.9"/>
<circle cx="178.08" cy="93.26" r="0.80" fill="#bdbdbd" fill-opacity="0.9"/>
<circle cx="188.33" cy="93.83" r="0.80" fill="#bdbdbd" fill-opacity="0.9"/>
<circle cx="181.05" cy="95.41" r="0.80" fill="#bdbdbd" fill-opacity="0.9"/>
<circle cx="178.26" cy="98.29" r="0.80" fill="#bdbdbd" fill-opacity="0.9"/>
<circle cx="184.00" cy="95.10" r="0.80" fill="#bdbdbd" fill-opacity="0.9"/>
<circle cx="182.42" cy="95.78" r="0.80" fill="#bdbdbd" fill-opacity="0.9"/>
<circle cx="176.18" cy="94.08" r="0.80" fill="#bdbdbd" fill-opacity="0.9"/>
<circle cx="181.45" cy="94.51" r="0.80" fill="#bdbdbd" fill-opacity="0.9"/>
<circle cx="180.70" cy="93.92" r="0.80" fill="#bdbdbd" fill-opacity="0.9"/>
<circle cx="176.58" cy="93.56" r="0.80" fill="#bdbdbd" fill-opacity="0.9"/>
<circle cx="178.97" cy="93.56" r="0.80" fill="#bdbdbd" fill-opacity="0.9"/>
<circle cx="177.33" cy="94.79" r="0.80" fill="#bdbdbd" fill-opacity="0.9"/>
<circle cx="182.61" cy="99.38" r="0.80" fill="#bdbdbd" fill-opacity="0.9"/>
<circle cx="185.49" cy="95.91" r="0.80" fill="#bdbdbd" fill-opacity="0.9"/>
<circle cx="180.12" cy="96.73" r="0.80" fill="#bdbdbd" fill-opacity="0.9"/>
<circle cx="179.53" cy="95.37" r="0.80" fill="#bdbdbd" fill-opacity="0.9"/>
<circle cx="181.55" cy="97.50" r="0.80" fill="#bdbdbd" fill-opacity="0.9"/>
<circle cx="187.31" cy="94.48" r="0.80" fill="#bdbdbd" fill-opacity="0.9"/>
<circle cx="177.84" cy="94.71" r="0.80" fill="#bdbdbd" fill-opacity="0.9"/>
<circle cx="179.90" cy="96.15" r="0.80" fill="#bdbdbd" fill-opacity="0.9"/>
<circle cx="187.47" cy="93.06" r="0.80" fill="#bdbdbd" fill-opacity="0.9"/>
<circle cx="182.89" cy="92.90" r="0.80" fill="#bdbdbd" fill-opacity="0.9"/>
<circle cx="172.90" cy="97.80" r="0.80" fill="#bdbdbd" />
<circle cx="174.34" cy="90.71" r="0.90" fill="#2a74e6" />
<circle cx="177.59" cy="90.52" r="0.90" fill="#2a74e6" />
<circle cx="178.69" cy="88.95" r="0.90" fill="#2a74e6" />
<circle cx="172.22" cy="88.70" r="0.90" fill="#2a74e6" />
<circle cx="175.32" cy="90.07" r="0.90" fill="#2a74e6" />
<circle cx="178.46" cy="90.18" r="0.90" fill="#2a74e6" />
<circle cx="176.26" cy="90.29" r="0.90" fill="#2a74e6" />
<circle cx="174.83" cy="89.73" r="0.90" fill="#2a74e6" />
<circle cx="171.70" cy="90.33" r="0.90" fill="#2a74e6" />
<circle cx="173.14" cy="90.69" r="0.90" fill="#2a74e6" />
<circle cx="176.24" cy="89.09" r="0.90" fill="#2a74e6" />
<circle cx="172.36" cy="88.95" r="0.90" fill="#2a74e6" />
<circle cx="176.17" cy="90.12" r="0.90" fill="#2a74e6" />
<circle cx="172.24" cy="88.48" r="0.90" fill="#2a74e6" />
<circle cx="175.33" cy="89.82" r="0.90" fill="#2a74e6" />
<circle cx="174.31" cy="88.88" r="0.90" fill="#2a74e6" />
<circle cx="175.91" cy="88.33" r="0.90" fill="#2a74e6" />
<circle cx="173.66" cy="89.50" r="0.90" fill="#2a74e6" />
<circle cx="178.59" cy="89.98" r="0.90" fill="#2a74e6" />
<circle cx="178.03" cy="89.54" r="0.90" fill="#2a74e6" />
<circle cx="173.16" cy="88.94" r="0.90" fill="#2a74e6" />
<circle cx="178.60" cy="90.13" r="0.90" fill="#2a74e6" />
<circle cx="173.71" cy="88.36" r="0.90" fill="#2a74e6" />
<circle cx="175.14" cy="90.05" r="0.90" fill="#2a74e6" />
<circle cx="174.55" cy="88.97" r="0.90" fill="#2a74e6" />
<circle cx="176.41" cy="90.71" r="0.90" fill="#2a74e6" />
<circle cx="184.76" cy="87.92" r="0.90" fill="#2a74e6" />
<circle cx="185.92" cy="89.23" r="0.90" fill="#2a74e6" />
<circle cx="189.50" cy="88.47" r="0.90" fill="#2a74e6" />
<circle cx="190.69" cy="90.31" r="0.90" fill="#2a74e6" />
<circle cx="187.65" cy="88.50" r="0.90" fill="#2a74e6" />
<circle cx="192.49" cy="88.86" r="0.90" fill="#2a74e6" />
<circle cx="190.93" cy="88.58" r="0.90" fill="#2a74e6" />
<circle cx="184.70" cy="90.39" r="0.90" fill="#2a74e6" />
<circle cx="185.47" cy="91.04" r="0.90" fill="#2a74e6" />
<circle cx="187.56" cy="88.44" r="0.90" fill="#2a74e6" />
<circle cx="184.72" cy="89.22" r="0.90" fill="#2a74e6" />
<circle cx="189.32" cy="91.03" r="0.90" fill="#2a74e6" />
<circle cx="183.92" cy="89.14" r="0.90" fill="#2a74e6" />
<circle cx="184.61" cy="91.11" r="0.90" fill="#2a74e6" />
<circle cx="183.88" cy="87.98" r="0.90" fill="#2a74e6" />
<circle cx="183.03" cy="89.14" r="0.90" fill="#2a74e6" />
<circle cx="191.74" cy="90.80" r="0.90" fill="#2a74e6" />
<circle cx="190.02" cy="91.19" r="0.90" fill="#2a74e6" />
<circle cx="192.09" cy="88.92" r="0.90" fill="#2a74e6" />
<circle cx="184.33" cy="90.98" r="0.90" fill="#2a74e6" />
<circle cx="176.82" cy="78.71" r="0.90" fill="#f25aa8" fill-opacity="0.9"/>
<circle cx="174.49" cy="77.97" r="0.90" fill="#f25aa8" fill-opacity="0.9"/>
<circle cx="174.35" cy="85.62" r="0.90" fill="#f25aa8" fill-opacity="0.9"/>
<circle cx="174.48" cy="87.14" r="0.90" fill="#f25aa8" fill-opacity="0.9"/>
<circle cx="174.79" cy="85.46" r="0.90" fill="#f25aa8" fill-opacity="0.9"/>
<circle cx="177.48" cy="86.82" r="0.90" fill="#f25aa8" fill-opacity="0.9"/>
<circle cx="173.60" cy="83.98" r="0.90" fill="#f25aa8" fill-opacity="0.9"/>
<circle cx="174.59" cy="76.72" r="0.90" fill="#f25aa8" fill-opacity="0.9"/>
<circle cx="174.94" cy="80.50" r="0.90" fill="#f25aa8" fill-opacity="0.9"/>
<circle cx="177.92" cy="84.32" r="0.90" fill="#f25aa8" fill-opacity="0.9"/>
<circle cx="178.08" cy="84.86" r="0.90" fill="#f25aa8" fill-opacity="0.9"/>
<circle cx="176.36" cy="77.91" r="0.90" fill="#f25aa8" fill-opacity="0.9"/>
<circle cx="174.06" cy="78.44" r="0.90" fill="#f25aa8" fill-opacity="0.9"/>
<circle cx="173.08" cy="84.55" r="0.90" fill="#f25aa8" fill-opacity="0.9"/>
<circle cx="174.11" cy="88.09" r="0.90" fill="#f25aa8" fill-opacity="0.9"/>
<circle cx="178.57" cy="88.21" r="0.90" fill="#f25aa8" fill-opacity="0.9"/>
<circle cx="177.18" cy="79.77" r="0.90" fill="#f25aa8" fill-opacity="0.9"/>
<circle cx="176.46" cy="83.32" r="0.90" fill="#f25aa8" fill-opacity="0.9"/>
<circle cx="177.48" cy="86.01" r="0.90" fill="#f25aa8" fill-opacity="0.9"/>
<circle cx="176.82" cy="74.69" r="0.90" fill="#f25aa8" fill-opacity="0.9"/>
<circle cx="176.04" cy="78.62" r="0.90" fill="#f25aa8" fill-opacity="0.9"/>
<circle cx="172.73" cy="86.59" r="0.90" fill="#f25aa8" fill-opacity="0.9"/>
<circle cx="176.13" cy="77.89" r="0.90" fill="#f25aa8" fill-opacity="0.9"/>
<circle cx="174.67" cy="88.28" r="0.90" fill="#f25aa8" fill-opacity="0.9"/>
<circle cx="175.56" cy="76.41" r="0.90" fill="#f25aa8" fill-opacity="0.9"/>
<circle cx="177.97" cy="82.99" r="0.90" fill="#f25aa8" fill-opacity="0.9"/>
<circle cx="175.30" cy="85.58" r="0.90" fill="#f25aa8" fill-opacity="0.9"/>
<circle cx="178.22" cy="87.06" r="0.90" fill="#f25aa8" fill-opacity="0.9"/>
<circle cx="173.58" cy="84.93" r="0.90" fill="#f25aa8" fill-opacity="0.9"/>
<circle cx="176.27" cy="82.47" r="0.90" fill="#f25aa8" fill-opacity="0.9"/>
<circle cx="173.54" cy="82.15" r="0.90" fill="#f25aa8" fill-opacity="0.9"/>
<circle cx="176.71" cy="75.97" r="0.90" fill="#f25aa8" fill-opacity="0.9"/>
<circle cx="176.93" cy="75.69" r="0.90" fill="#f25aa8" fill-opacity="0.9"/>
<circle cx="177.86" cy="81.35" r="0.90" fill="#f25aa8" fill-opacity="0.9"/>
<circle cx="174.66" cy="81.38" r="0.90" fill="#f25aa8" fill-opacity="0.9"/>
<circle cx="176.61" cy="74.22" r="0.90" fill="#f25aa8" fill-opacity="0.9"/>
<circle cx="174.78" cy="77.22" r="0.90" fill="#f25aa8" fill-opacity="0.9"/>
<circle cx="173.96" cy="87.67" r="0.90" fill="#f25aa8" fill-opacity="0.9"/>
<circle cx="174.00" cy="81.64" r="0.90" fill="#f25aa8" fill-opacity="0.9"/>
<circle cx="174.36" cy="79.30" r="0.90" fill="#f25aa8" fill-opacity="0.9"/>
<circle cx="178.41" cy="88.35" r="0.90" fill="#f25aa8" fill-opacity="0.9"/>
<circle cx="177.32" cy="75.98" r="0.90" fill="#f25aa8" fill-opacity="0.9"/>
<circle cx="174.89" cy="85.60" r="0.90" fill="#f25aa8" fill-opacity="0.9"/>
<circle cx="174.75" cy="86.57" r="0.90" fill="#f25aa8" fill-opacity="0.9"/>
<circle cx="175.19" cy="75.34" r="0.90" fill="#f25aa8" fill-opacity="0.9"/>
<circle cx="176.63" cy="86.99" r="0.90" fill="#f25aa8" fill-opacity="0.9"/>
<circle cx="174.47" cy="80.67" r="0.90" fill="#f25aa8" fill-opacity="0.9"/>
<circle cx="175.67" cy="87.24" r="0.90" fill="#f25aa8" fill-opacity="0.9"/>
<circle cx="177.94" cy="87.88" r="0.90" fill="#f25aa8" fill-opacity="0.9"/>
<circle cx="175.36" cy="73.63" r="0.90" fill="#f25aa8" fill-opacity="0.9"/>
<circle cx="174.74" cy="86.00" r="0.90" fill="#f25aa8" fill-opacity="0.9"/>
<circle cx="175.64" cy="78.78" r="0.90" fill="#f25aa8" fill-opacity="0.9"/>
<circle cx="177.30" cy="86.80" r="0.90" fill="#f25aa8" fill-opacity="0.9"/>
<circle cx="176.30" cy="81.38" r="0.90" fill="#f25aa8" fill-opacity="0.9"/>
<circle cx="176.52" cy="77.58" r="0.90" fill="#f25aa8" fill-opacity="0.9"/>
<circle cx="174.86" cy="81.89" r="0.90" fill="#f25aa8" fill-opacity="0.9"/>
<circle cx="174.91" cy="83.08" r="0.90" fill="#f25aa8" fill-opacity="0.9"/>
<circle cx="175.07" cy="79.64" r="0.90" fill="#f25aa8" fill-opacity="0.9"/>
<circle cx="175.42" cy="76.47" r="0.90" fill="#f25aa8" fill-opacity="0.9"/>
<circle cx="177.61" cy="84.97" r="0.90" fill="#f25aa8" fill-opacity="0.9"/>
<circle cx="175.17" cy="75.60" r="0.90" fill="#f25aa8" fill-opacity="0.9"/>
<circle cx="175.29" cy="74.47" r="0.90" fill="#f25aa8" fill-opacity="0.9"/>
<circle cx="175.58" cy="73.44" r="0.90" fill="#f25aa8" fill-opacity="0.9"/>
<circle cx="176.59" cy="74.08" r="0.90" fill="#f25aa8" fill-opacity="0.9"/>
<circle cx="177.37" cy="84.93" r="0.90" fill="#f25aa8" fill-opacity="0.9"/>
<circle cx="175.59" cy="73.65" r="0.90" fill="#f25aa8" fill-opacity="0.9"/>
<circle cx="175.53" cy="78.69" r="0.90" fill="#f25aa8" fill-opacity="0.9"/>
<circle cx="178.36" cy="88.34" r="0.90" fill="#f25aa8" fill-opacity="0.9"/>
<circle cx="177.36" cy="85.51" r="0.90" fill="#f25aa8" fill-opacity="0.9"/>
<circle cx="173.05" cy="88.11" r="0.90" fill="#f25aa8" fill-opacity="0.9"/>
<circle cx="166.00" cy="76.40" r="0.90" fill="#f25aa8" />
<circle cx="163.50" cy="81.40" r="0.90" fill="#f25aa8" />
<circle cx="169.70" cy="75.00" r="0.90" fill="#f25aa8" />
<circle cx="170.00" cy="78.90" r="0.90" fill="#f25aa8" />
<circle cx="169.70" cy="82.90" r="0.90" fill="#f25aa8" />
<circle cx="168.40" cy="87.70" r="0.90" fill="#f25aa8" />
<circle cx="172.90" cy="74.00" r="0.90" fill="#f25aa8" />
<circle cx="187.90" cy="75.70" r="0.90" fill="#f25aa8" />
<circle cx="184.70" cy="80.10" r="0.90" fill="#f25aa8" />
<circle cx="183.40" cy="86.60" r="0.90" fill="#f25aa8" />
<circle cx="185.50" cy="87.20" r="0.90" fill="#f25aa8" />
<circle cx="187.20" cy="86.40" r="0.90" fill="#f25aa8" />
<circle cx="188.30" cy="87.90" r="0.90" fill="#f25aa8" />
<circle cx="171.20" cy="85.50" r="0.90" fill="#f25aa8" />
<line x1="172.40" y1="29.80" x2="174.00" y2="32.00" stroke="#222" stroke-width="0.45" />
<line x1="188.20" y1="40.40" x2="186.00" y2="41.50" stroke="#222" stroke-width="0.45" />
<line x1="174.20" y1="46.90" x2="172.90" y2="46.00" stroke="#222" stroke-width="0.45" />
<line x1="165.50" y1="68.00" x2="167.00" y2="66.10" stroke="#222" stroke-width="0.45" />
<line x1="186.40" y1="69.20" x2="188.00" y2="67.60" stroke="#222" stroke-width="0.45" />
<line x1="174.80" y1="55.90" x2="176.90" y2="56.00" stroke="#222" stroke-width="0.45" />
<rect x="172.90" y="32.00" width="10.40" height="4.00" fill="#f7faf8" stroke="#9db2a5" stroke-width="0.5" rx="0.9"/>
<text x="178.10" y="35.00" font-size="2.9" text-anchor="middle" fill="#4a554f" font-family='"Liberation Sans", sans-serif' >AKT1</text>
<rect x="176.50" y="41.50" width="12.20" height="4.60" fill="#f7faf8" stroke="#9db2a5" stroke-width="0.5" rx="0.9"/>
<text x="182.60" y="44.80" font-size="2.9" text-anchor="middle" fill="#4a554f" font-family='"Liberation Sans", sans-serif' >TGFB2</text>
<rect x="163.10" y="43.10" width="9.80" height="4.60" fill="#f7faf8" stroke="#9db2a5" stroke-width="0.5" rx="0.9"/>
<text x="168.00" y="46.40" font-size="2.9" text-anchor="middle" fill="#4a554f" font-family='"Liberation Sans", sans-serif' >ZEB1</text>
<rect x="176.90" y="54.20" width="10.10" height="4.00" fill="#f7faf8" stroke="#9db2a5" stroke-width="0.5" rx="0.9"/>
<text x="181.95" y="57.20" font-size="2.9" text-anchor="middle" fill="#4a554f" font-family='"Liberation Sans", sans-serif' >PTEN</text>
<rect x="164.90" y="62.20" width="12.30" height="3.90" fill="#f7faf8" stroke="#9db2a5" stroke-width="0.5" rx="0.9"/>
<text x="171.05" y="65.15" font-size="2.9" text-anchor="middle" fill="#4a554f" font-family='"Liberation Sans", sans-serif' >THBS4</text>
<rect x="186.60" y="63.40" width="10.40" height="4.20" fill="#f7faf8" stroke="#9db2a5" stroke-width="0.5" rx="0.9"/>
<text x="191.80" y="66.50" font-size="2.9" text-anchor="middle" fill="#4a554f" font-family='"Liberation Sans", sans-serif' >GOT1</text>
<circle cx="172.40" cy="29.80" r="1.00" fill="#111" />
<circle cx="171.80" cy="37.40" r="1.00" fill="#111" />
<circle cx="174.20" cy="39.80" r="1.00" fill="#111" />
<circle cx="174.00" cy="41.50" r="1.00" fill="#111" />
<circle cx="188.20" cy="40.40" r="1.00" fill="#111" />
<circle cx="174.20" cy="46.90" r="1.00" fill="#111" />
<circle cx="174.80" cy="55.90" r="1.00" fill="#111" />
<circle cx="174.90" cy="57.20" r="1.00" fill="#111" />
<circle cx="175.00" cy="58.40" r="1.00" fill="#111" />
<circle cx="175.40" cy="59.60" r="1.00" fill="#111" />
<circle cx="176.00" cy="60.80" r="1.00" fill="#111" />
<circle cx="165.50" cy="68.00" r="1.00" fill="#111" />
<circle cx="175.60" cy="67.90" r="1.00" fill="#111" />
<circle cx="175.80" cy="69.00" r="1.00" fill="#111" />
<circle cx="176.30" cy="70.10" r="1.00" fill="#111" />
<circle cx="186.40" cy="69.20" r="1.00" fill="#111" />
<text x="0.00" y="0.00" font-size="4.5" text-anchor="start" fill="#222" font-family='"Liberation Sans", sans-serif' transform="translate(77.30,127.40) scale(0.9556,1)" >Significance</text>
<circle cx="105.80" cy="125.50" r="1.60" fill="#aaaaaa" />
<text x="0.00" y="0.00" font-size="4.5" text-anchor="start" fill="#333" font-family='"Liberation Sans", sans-serif' transform="translate(111.00,127.10) scale(0.7778,1)" >Not Significant</text>
<circle cx="138.50" cy="125.50" r="1.60" fill="#2a74e6" />
<text x="0.00" y="0.00" font-size="4.5" text-anchor="start" fill="#333" font-family='"Liberation Sans", sans-serif' transform="translate(144.00,127.10) scale(0.7778,1)" >P &lt; 0.05</text>
<circle cx="162.70" cy="125.50" r="1.60" fill="#f25aa8" />
<text x="0.00" y="0.00" font-size="4.5" text-anchor="start" fill="#333" font-family='"Liberation Sans", sans-serif' transform="translate(168.00,127.10) scale(0.7778,1)" >FDR &lt; 0.05</text>
<circle cx="191.30" cy="125.50" r="1.60" fill="#111" />
<text x="0.00" y="0.00" font-size="4.5" text-anchor="start" fill="#333" font-family='"Liberation Sans", sans-serif' transform="translate(196.00,127.10) scale(0.7778,1)" >FDR &lt; 0.001</text>
<rect x="285.50" y="20.30" width="36.00" height="7.30" fill="#ececec" stroke="#7a7a7a" stroke-width="0.5" />
<text x="0.00" y="0.00" font-size="4.5" text-anchor="middle" fill="#222" font-family='"Liberation Sans", sans-serif' transform="translate(303.50,25.57) scale(0.8222,1)" >CONTROL: Normal</text>
<rect x="323.60" y="20.30" width="45.90" height="7.30" fill="#ececec" stroke="#7a7a7a" stroke-width="0.5" />
<text x="0.00" y="0.00" font-size="4.5" text-anchor="middle" fill="#222" font-family='"Liberation Sans", sans-serif' transform="translate(346.55,25.57) scale(0.8222,1)" >HCM: Normal</text>
<line x1="285.50" y1="27.60" x2="285.50" y2="111.45" stroke="#5a5a5a" stroke-width="0.9" />
<line x1="285.05" y1="111.00" x2="321.50" y2="111.00" stroke="#5a5a5a" stroke-width="0.9" />
<line x1="323.60" y1="111.00" x2="369.50" y2="111.00" stroke="#5a5a5a" stroke-width="0.9" />
<line x1="284.20" y1="54.40" x2="285.50" y2="54.40" stroke="#5a5a5a" stroke-width="0.6" />
<text x="283.80" y="56.05" font-size="4.7" text-anchor="end" fill="#2a2a2a" font-family='"Liberation Sans", sans-serif' >6.5</text>
<line x1="284.20" y1="82.40" x2="285.50" y2="82.40" stroke="#5a5a5a" stroke-width="0.6" />
<text x="283.80" y="84.05" font-size="4.7" text-anchor="end" fill="#2a2a2a" font-family='"Liberation Sans", sans-serif' >6.0</text>
<line x1="284.20" y1="110.30" x2="285.50" y2="110.30" stroke="#5a5a5a" stroke-width="0.6" />
<text x="283.80" y="111.95" font-size="4.7" text-anchor="end" fill="#2a2a2a" font-family='"Liberation Sans", sans-serif' >5.5</text>
<text x="0.00" y="0.00" font-size="4.85" text-anchor="middle" fill="#2a2a2a" font-family='"Liberation Sans", sans-serif' transform="translate(274.30,69.80) rotate(-90)" >GPT</text>
<text x="323.00" y="117.40" font-size="4.8" text-anchor="start" fill="#2a2a2a" font-family='"Liberation Sans", sans-serif' >ROI</text>
<rect x="418.40" y="20.30" width="47.60" height="7.30" fill="#ececec" stroke="#7a7a7a" stroke-width="0.5" />
<text x="0.00" y="0.00" font-size="4.5" text-anchor="middle" fill="#222" font-family='"Liberation Sans", sans-serif' transform="translate(442.20,25.57) scale(0.8222,1)" >HCM: Normal</text>
<rect x="468.40" y="20.30" width="34.20" height="7.30" fill="#ececec" stroke="#7a7a7a" stroke-width="0.5" />
<text x="0.00" y="0.00" font-size="4.5" text-anchor="middle" fill="#222" font-family='"Liberation Sans", sans-serif' transform="translate(485.50,25.57) scale(0.8222,1)" >HCM: Severe</text>
<line x1="418.40" y1="27.60" x2="418.40" y2="111.75" stroke="#5a5a5a" stroke-width="0.9" />
<line x1="417.95" y1="111.30" x2="466.00" y2="111.30" stroke="#5a5a5a" stroke-width="0.9" />
<line x1="468.40" y1="111.30" x2="502.60" y2="111.30" stroke="#5a5a5a" stroke-width="0.9" />
<line x1="417.10" y1="27.90" x2="418.40" y2="27.90" stroke="#5a5a5a" stroke-width="0.6" />
<text x="416.70" y="29.55" font-size="4.7" text-anchor="end" fill="#2a2a2a" font-family='"Liberation Sans", sans-serif' >7.00</text>
<line x1="417.10" y1="49.20" x2="418.40" y2="49.20" stroke="#5a5a5a" stroke-width="0.6" />
<text x="416.70" y="50.85" font-size="4.7" text-anchor="end" fill="#2a2a2a" font-family='"Liberation Sans", sans-serif' >6.75</text>
<line x1="417.10" y1="70.60" x2="418.40" y2="70.60" stroke="#5a5a5a" stroke-width="0.6" />
<text x="416.70" y="72.25" font-size="4.7" text-anchor="end" fill="#2a2a2a" font-family='"Liberation Sans", sans-serif' >6.50</text>
<line x1="417.10" y1="91.80" x2="418.40" y2="91.80" stroke="#5a5a5a" stroke-width="0.6" />
<text x="416.70" y="93.45" font-size="4.7" text-anchor="end" fill="#2a2a2a" font-family='"Liberation Sans", sans-serif' >6.25</text>
<text x="0.00" y="0.00" font-size="4.85" text-anchor="middle" fill="#2a2a2a" font-family='"Liberation Sans", sans-serif' transform="translate(405.60,69.80) rotate(-90)" >AKT1</text>
<text x="455.50" y="117.40" font-size="4.8" text-anchor="start" fill="#2a2a2a" font-family='"Liberation Sans", sans-serif' >ROI</text>
<circle cx="313.30" cy="31.10" r="1.25" fill="#4a5ca8" />
<circle cx="290.60" cy="48.70" r="1.25" fill="#4a5ca8" />
<circle cx="300.30" cy="46.60" r="1.25" fill="#4a5ca8" />
<circle cx="297.00" cy="50.80" r="1.25" fill="#4a5ca8" />
<circle cx="293.90" cy="56.30" r="1.25" fill="#4a5ca8" />
<circle cx="303.60" cy="56.20" r="1.25" fill="#4a5ca8" />
<circle cx="306.70" cy="57.00" r="1.25" fill="#4a5ca8" />
<circle cx="310.00" cy="52.80" r="1.25" fill="#4a5ca8" />
<circle cx="316.40" cy="54.30" r="1.25" fill="#4a5ca8" />
<circle cx="319.70" cy="48.60" r="1.25" fill="#4a5ca8" />
<circle cx="287.50" cy="55.00" r="1.25" fill="#f3804a" />
<circle cx="326.00" cy="97.80" r="1.25" fill="#f5291d" />
<circle cx="329.10" cy="98.70" r="1.25" fill="#f5291d" />
<circle cx="332.40" cy="91.10" r="1.25" fill="#f5291d" />
<circle cx="335.50" cy="103.30" r="1.25" fill="#f5291d" />
<circle cx="338.70" cy="100.00" r="1.25" fill="#f5291d" />
<circle cx="341.80" cy="90.70" r="1.25" fill="#f5291d" />
<circle cx="345.10" cy="101.30" r="1.25" fill="#f5291d" />
<circle cx="348.40" cy="102.70" r="1.25" fill="#f5291d" />
<circle cx="351.50" cy="107.60" r="1.25" fill="#17bde2" />
<circle cx="354.70" cy="95.60" r="1.25" fill="#17bde2" />
<circle cx="358.00" cy="101.60" r="1.25" fill="#17bde2" />
<circle cx="361.30" cy="92.70" r="1.25" fill="#17bde2" />
<circle cx="364.50" cy="94.00" r="1.25" fill="#17bde2" />
<circle cx="368.00" cy="102.50" r="1.25" fill="#17bde2" />
<circle cx="430.60" cy="46.40" r="1.25" fill="#f5291d" />
<circle cx="440.60" cy="44.90" r="1.25" fill="#f5291d" />
<circle cx="423.70" cy="60.50" r="1.25" fill="#f5291d" />
<circle cx="437.20" cy="58.50" r="1.25" fill="#f5291d" />
<circle cx="427.20" cy="65.50" r="1.25" fill="#f5291d" />
<circle cx="443.70" cy="69.30" r="1.25" fill="#f5291d" />
<circle cx="420.50" cy="72.30" r="1.25" fill="#f5291d" />
<circle cx="433.70" cy="71.40" r="1.25" fill="#f5291d" />
<circle cx="447.40" cy="31.30" r="1.25" fill="#17bde2" />
<circle cx="457.40" cy="56.20" r="1.25" fill="#17bde2" />
<circle cx="453.90" cy="62.90" r="1.25" fill="#17bde2" />
<circle cx="464.10" cy="65.80" r="1.25" fill="#17bde2" />
<circle cx="460.80" cy="68.50" r="1.25" fill="#17bde2" />
<circle cx="450.50" cy="71.50" r="1.25" fill="#17bde2" />
<circle cx="470.30" cy="88.40" r="1.25" fill="#169b7a" />
<circle cx="473.70" cy="97.70" r="1.25" fill="#169b7a" />
<circle cx="477.10" cy="106.40" r="1.25" fill="#169b7a" />
<circle cx="480.50" cy="107.50" r="1.25" fill="#169b7a" />
<circle cx="483.80" cy="93.40" r="1.25" fill="#27408e" />
<circle cx="487.10" cy="98.90" r="1.25" fill="#27408e" />
<circle cx="490.30" cy="96.80" r="1.25" fill="#27408e" />
<circle cx="493.90" cy="88.50" r="1.25" fill="#27408e" />
<circle cx="497.20" cy="107.10" r="1.25" fill="#27408e" />
<circle cx="500.50" cy="102.50" r="1.25" fill="#27408e" />
<text x="376.80" y="56.20" font-size="5.0" text-anchor="start" fill="#222" font-family='"Liberation Sans", sans-serif' >Patient</text>
<circle cx="380.20" cy="62.40" r="1.05" fill="#f5291d" />
<text x="0.00" y="0.00" font-size="4.5" text-anchor="start" fill="#444" font-family='"Liberation Sans", sans-serif' transform="translate(385.80,63.95) scale(0.8222,1)" >2826</text>
<circle cx="380.20" cy="69.30" r="1.05" fill="#17bde2" />
<text x="0.00" y="0.00" font-size="4.5" text-anchor="start" fill="#444" font-family='"Liberation Sans", sans-serif' transform="translate(385.80,70.85) scale(0.8222,1)" >2843</text>
<circle cx="380.20" cy="76.20" r="1.05" fill="#f3804a" />
<text x="0.00" y="0.00" font-size="4.5" text-anchor="start" fill="#444" font-family='"Liberation Sans", sans-serif' transform="translate(385.80,77.75) scale(0.8222,1)" >2879</text>
<circle cx="380.20" cy="83.10" r="1.05" fill="#4a5ca8" />
<text x="0.00" y="0.00" font-size="4.5" text-anchor="start" fill="#444" font-family='"Liberation Sans", sans-serif' transform="translate(385.80,84.65) scale(0.8222,1)" >2880</text>
<text x="509.90" y="56.20" font-size="5.0" text-anchor="start" fill="#222" font-family='"Liberation Sans", sans-serif' >Patient</text>
<circle cx="513.30" cy="62.40" r="1.05" fill="#169b7a" />
<text x="0.00" y="0.00" font-size="4.5" text-anchor="start" fill="#444" font-family='"Liberation Sans", sans-serif' transform="translate(518.90,63.95) scale(0.8222,1)" >2799</text>
<circle cx="513.30" cy="69.30" r="1.05" fill="#f5291d" />
<text x="0.00" y="0.00" font-size="4.5" text-anchor="start" fill="#444" font-family='"Liberation Sans", sans-serif' transform="translate(518.90,70.85) scale(0.8222,1)" >2826</text>
<circle cx="513.30" cy="76.20" r="1.05" fill="#27408e" />
<text x="0.00" y="0.00" font-size="4.5" text-anchor="start" fill="#444" font-family='"Liberation Sans", sans-serif' transform="translate(518.90,77.75) scale(0.8222,1)" >2834</text>
<circle cx="513.30" cy="83.10" r="1.05" fill="#17bde2" />
<text x="0.00" y="0.00" font-size="4.5" text-anchor="start" fill="#444" font-family='"Liberation Sans", sans-serif' transform="translate(518.90,84.65) scale(0.8222,1)" >2843</text>
<text x="169.80" y="166.13" font-size="6.43" text-anchor="end" fill="#141414" font-family='"Liberation Sans", sans-serif' >regulation of toll-like receptor signaling pathway</text>
<line x1="171.20" y1="163.80" x2="172.80" y2="163.80" stroke="#444" stroke-width="0.6" />
<text x="169.80" y="175.83" font-size="6.43" text-anchor="end" fill="#141414" font-family='"Liberation Sans", sans-serif' >regulation of type I interferon production</text>
<line x1="171.20" y1="173.50" x2="172.80" y2="173.50" stroke="#444" stroke-width="0.6" />
<text x="169.80" y="185.53" font-size="6.43" text-anchor="end" fill="#141414" font-family='"Liberation Sans", sans-serif' >type I interferon production</text>
<line x1="171.20" y1="183.20" x2="172.80" y2="183.20" stroke="#444" stroke-width="0.6" />
<text x="169.80" y="195.23" font-size="6.43" text-anchor="end" fill="#141414" font-family='"Liberation Sans", sans-serif' >signaling receptor activity</text>
<line x1="171.20" y1="192.90" x2="172.80" y2="192.90" stroke="#444" stroke-width="0.6" />
<text x="169.80" y="204.93" font-size="6.43" text-anchor="end" fill="#141414" font-family='"Liberation Sans", sans-serif' >molecular transducer activity</text>
<line x1="171.20" y1="202.60" x2="172.80" y2="202.60" stroke="#444" stroke-width="0.6" />
<text x="169.80" y="214.63" font-size="6.43" text-anchor="end" fill="#141414" font-family='"Liberation Sans", sans-serif' >ATP synthesis coupled electron transport</text>
<line x1="171.20" y1="212.30" x2="172.80" y2="212.30" stroke="#444" stroke-width="0.6" />
<text x="169.80" y="224.33" font-size="6.43" text-anchor="end" fill="#141414" font-family='"Liberation Sans", sans-serif' >mitochondrial ATP synthesis coupled electron transport</text>
<line x1="171.20" y1="222.00" x2="172.80" y2="222.00" stroke="#444" stroke-width="0.6" />
<text x="169.80" y="234.03" font-size="6.43" text-anchor="end" fill="#141414" font-family='"Liberation Sans", sans-serif' >oxidative phosphorylation</text>
<line x1="171.20" y1="231.70" x2="172.80" y2="231.70" stroke="#444" stroke-width="0.6" />
<text x="169.80" y="243.73" font-size="6.43" text-anchor="end" fill="#141414" font-family='"Liberation Sans", sans-serif' >respiratory electron transport chain</text>
<line x1="171.20" y1="241.40" x2="172.80" y2="241.40" stroke="#444" stroke-width="0.6" />
<text x="169.80" y="253.43" font-size="6.43" text-anchor="end" fill="#141414" font-family='"Liberation Sans", sans-serif' >electron transport chain</text>
<line x1="171.20" y1="251.10" x2="172.80" y2="251.10" stroke="#444" stroke-width="0.6" />
<text x="169.80" y="263.13" font-size="6.43" text-anchor="end" fill="#141414" font-family='"Liberation Sans", sans-serif' >respirasome</text>
<line x1="171.20" y1="260.80" x2="172.80" y2="260.80" stroke="#444" stroke-width="0.6" />
<text x="169.80" y="272.83" font-size="6.43" text-anchor="end" fill="#141414" font-family='"Liberation Sans", sans-serif' >respiratory chain complex</text>
<line x1="171.20" y1="270.50" x2="172.80" y2="270.50" stroke="#444" stroke-width="0.6" />
<text x="169.80" y="282.53" font-size="6.43" text-anchor="end" fill="#141414" font-family='"Liberation Sans", sans-serif' >mitochondrial inner membrane</text>
<line x1="171.20" y1="280.20" x2="172.80" y2="280.20" stroke="#444" stroke-width="0.6" />
<text x="169.80" y="292.23" font-size="6.43" text-anchor="end" fill="#141414" font-family='"Liberation Sans", sans-serif' >organelle inner membrane</text>
<line x1="171.20" y1="289.90" x2="172.80" y2="289.90" stroke="#444" stroke-width="0.6" />
<text x="169.80" y="301.93" font-size="6.43" text-anchor="end" fill="#141414" font-family='"Liberation Sans", sans-serif' >mitochondrial respirasome</text>
<line x1="171.20" y1="299.60" x2="172.80" y2="299.60" stroke="#444" stroke-width="0.6" />
<text x="169.80" y="311.63" font-size="6.43" text-anchor="end" fill="#141414" font-family='"Liberation Sans", sans-serif' >endoplasmic reticulum lumen</text>
<line x1="171.20" y1="309.30" x2="172.80" y2="309.30" stroke="#444" stroke-width="0.6" />
<text x="169.80" y="321.33" font-size="6.43" text-anchor="end" fill="#141414" font-family='"Liberation Sans", sans-serif' >collagen-containing extracellular matrix</text>
<line x1="171.20" y1="319.00" x2="172.80" y2="319.00" stroke="#444" stroke-width="0.6" />
<text x="169.80" y="331.03" font-size="6.43" text-anchor="end" fill="#141414" font-family='"Liberation Sans", sans-serif' >extracellular matrix</text>
<line x1="171.20" y1="328.70" x2="172.80" y2="328.70" stroke="#444" stroke-width="0.6" />
<text x="169.80" y="340.73" font-size="6.43" text-anchor="end" fill="#141414" font-family='"Liberation Sans", sans-serif' >extracellular matrix structural constituent</text>
<line x1="171.20" y1="338.40" x2="172.80" y2="338.40" stroke="#444" stroke-width="0.6" />
<text x="169.80" y="350.43" font-size="6.43" text-anchor="end" fill="#141414" font-family='"Liberation Sans", sans-serif' >cation binding</text>
<line x1="171.20" y1="348.10" x2="172.80" y2="348.10" stroke="#444" stroke-width="0.6" />
<line x1="172.80" y1="158.50" x2="172.80" y2="353.20" stroke="#444" stroke-width="0.7" />
<line x1="172.80" y1="353.20" x2="232.30" y2="353.20" stroke="#444" stroke-width="0.7" />
<line x1="235.40" y1="353.20" x2="295.00" y2="353.20" stroke="#444" stroke-width="0.7" />
<rect x="172.80" y="142.80" width="59.80" height="14.50" fill="#ececec" stroke="#666" stroke-width="0.5" />
<text x="202.70" y="149.06" font-size="5.2" text-anchor="middle" fill="#222" font-family='"Liberation Sans", sans-serif' >CONTROL: Normal -</text>
<text x="202.70" y="154.78" font-size="5.2" text-anchor="middle" fill="#222" font-family='"Liberation Sans", sans-serif' >HCM: Normal</text>
<rect x="236.20" y="142.80" width="59.60" height="14.50" fill="#ececec" stroke="#666" stroke-width="0.5" />
<text x="266.00" y="149.06" font-size="5.2" text-anchor="middle" fill="#222" font-family='"Liberation Sans", sans-serif' >HCM: Normal - HCM:</text>
<text x="266.00" y="154.78" font-size="5.2" text-anchor="middle" fill="#222" font-family='"Liberation Sans", sans-serif' >Severe</text>
<line x1="188.80" y1="353.20" x2="188.80" y2="354.80" stroke="#444" stroke-width="0.6" />
<text x="0.00" y="0.00" font-size="6.6" text-anchor="end" fill="#141414" font-family='"Liberation Sans", sans-serif' transform="translate(191.80,360.00) rotate(-45)" >Downregulated</text>
<line x1="216.50" y1="353.20" x2="216.50" y2="354.80" stroke="#444" stroke-width="0.6" />
<text x="0.00" y="0.00" font-size="6.6" text-anchor="end" fill="#141414" font-family='"Liberation Sans", sans-serif' transform="translate(219.50,360.00) rotate(-45)" >Upregulated</text>
<line x1="252.40" y1="353.20" x2="252.40" y2="354.80" stroke="#444" stroke-width="0.6" />
<text x="0.00" y="0.00" font-size="6.6" text-anchor="end" fill="#141414" font-family='"Liberation Sans", sans-serif' transform="translate(255.40,360.00) rotate(-45)" >Downregulated</text>
<line x1="280.00" y1="353.20" x2="280.00" y2="354.80" stroke="#444" stroke-width="0.6" />
<text x="0.00" y="0.00" font-size="6.6" text-anchor="end" fill="#141414" font-family='"Liberation Sans", sans-serif' transform="translate(283.00,360.00) rotate(-45)" >Upregulated</text>
<circle cx="188.80" cy="163.80" r="2.00" fill="#6a4aaa" />
<circle cx="188.80" cy="173.50" r="2.60" fill="#6a4aaa" />
<circle cx="188.80" cy="183.20" r="2.60" fill="#6a4aaa" />
<circle cx="188.80" cy="192.90" r="3.10" fill="#1b1574" />
<circle cx="188.80" cy="202.60" r="3.10" fill="#1b1574" />
<circle cx="216.50" cy="212.30" r="2.50" fill="#1b1574" />
<circle cx="216.50" cy="222.00" r="2.50" fill="#1b1574" />
<circle cx="216.50" cy="231.70" r="2.50" fill="#1b1574" />
<circle cx="216.50" cy="241.40" r="2.50" fill="#1b1574" />
<circle cx="216.50" cy="251.10" r="2.50" fill="#1b1574" />
<circle cx="216.50" cy="260.80" r="2.50" fill="#1b1574" />
<circle cx="216.50" cy="270.50" r="2.50" fill="#1b1574" />
<circle cx="216.50" cy="280.20" r="2.50" fill="#1b1574" />
<circle cx="216.50" cy="289.90" r="2.50" fill="#1b1574" />
<circle cx="216.50" cy="299.60" r="2.50" fill="#1b1574" />
<circle cx="280.00" cy="260.80" r="0.90" fill="#6a4aaa" />
<circle cx="280.00" cy="270.50" r="0.90" fill="#6a4aaa" />
<circle cx="280.00" cy="280.20" r="1.10" fill="#6a4aaa" />
<circle cx="280.00" cy="289.90" r="1.10" fill="#6a4aaa" />
<circle cx="280.00" cy="299.60" r="0.90" fill="#6a4aaa" />
<circle cx="252.40" cy="309.30" r="2.50" fill="#5b40a3" />
<circle cx="252.40" cy="319.00" r="2.50" fill="#dcb5dc" />
<circle cx="252.40" cy="328.70" r="2.50" fill="#dcb5dc" />
<circle cx="252.40" cy="338.40" r="2.00" fill="#4a38a0" />
<circle cx="252.40" cy="348.10" r="3.90" fill="#dcb5dc" />
<text x="305.60" y="203.60" font-size="6.45" text-anchor="start" fill="#2a2a2a" font-family='"Liberation Sans", sans-serif' >Adjusted P-Value</text>
<defs><linearGradient id="pg" x1="0" y1="0" x2="0" y2="1"><stop offset="0" stop-color="#e4c6e4"/><stop offset="0.5" stop-color="#7a5cb4"/><stop offset="1" stop-color="#1a1570"/></linearGradient></defs>
<rect x="305.60" y="207.70" width="9.40" height="45.80" fill="url(#pg)" stroke="none" stroke-width="0.5" />
<text x="318.20" y="219.20" font-size="5.0" text-anchor="start" fill="#333" font-family='"Liberation Sans", sans-serif' >0.06</text>
<text x="318.20" y="231.20" font-size="5.0" text-anchor="start" fill="#333" font-family='"Liberation Sans", sans-serif' >0.04</text>
<text x="318.20" y="243.40" font-size="5.0" text-anchor="start" fill="#333" font-family='"Liberation Sans", sans-serif' >0.02</text>
<text x="305.70" y="272.00" font-size="6.45" text-anchor="start" fill="#2a2a2a" font-family='"Liberation Sans", sans-serif' >Count</text>
<circle cx="309.90" cy="280.80" r="1.70" fill="#111" />
<text x="317.80" y="282.80" font-size="5.5" text-anchor="start" fill="#333" font-family='"Liberation Sans", sans-serif' >10</text>
<circle cx="309.90" cy="289.70" r="2.35" fill="#111" />
<text x="317.80" y="291.70" font-size="5.5" text-anchor="start" fill="#333" font-family='"Liberation Sans", sans-serif' >20</text>
<circle cx="309.90" cy="299.00" r="2.95" fill="#111" />
<text x="317.80" y="301.00" font-size="5.5" text-anchor="start" fill="#333" font-family='"Liberation Sans", sans-serif' >30</text>
<circle cx="309.90" cy="308.30" r="3.45" fill="#111" />
<text x="317.80" y="310.30" font-size="5.5" text-anchor="start" fill="#333" font-family='"Liberation Sans", sans-serif' >40</text>
<text x="373.80" y="147.30" font-size="5.5154000000000005" text-anchor="start" fill="#111" font-family='"Liberation Sans", sans-serif' >ATP synthesis coupled electron transport</text>
<line x1="374.00" y1="147.50" x2="374.00" y2="192.80" stroke="#555" stroke-width="0.95" />
<line x1="373.55" y1="192.80" x2="497.90" y2="192.80" stroke="#555" stroke-width="0.95" />
<line x1="372.70" y1="150.60" x2="374.00" y2="150.60" stroke="#555" stroke-width="0.6" />
<text x="0.00" y="0.00" font-size="4.5" text-anchor="end" fill="#333" font-family='"Liberation Sans", sans-serif' transform="translate(372.10,152.20) scale(0.9778,1)" >9</text>
<line x1="372.70" y1="162.60" x2="374.00" y2="162.60" stroke="#555" stroke-width="0.6" />
<text x="0.00" y="0.00" font-size="4.5" text-anchor="end" fill="#333" font-family='"Liberation Sans", sans-serif' transform="translate(372.10,164.20) scale(0.9778,1)" >8</text>
<line x1="372.70" y1="174.40" x2="374.00" y2="174.40" stroke="#555" stroke-width="0.6" />
<text x="0.00" y="0.00" font-size="4.5" text-anchor="end" fill="#333" font-family='"Liberation Sans", sans-serif' transform="translate(372.10,176.00) scale(0.9778,1)" >7</text>
<line x1="372.70" y1="186.00" x2="374.00" y2="186.00" stroke="#555" stroke-width="0.6" />
<text x="0.00" y="0.00" font-size="4.5" text-anchor="end" fill="#333" font-family='"Liberation Sans", sans-serif' transform="translate(372.10,187.60) scale(0.9778,1)" >6</text>
<text x="0.00" y="0.00" font-size="4.67" text-anchor="middle" fill="#222" font-family='"Liberation Sans", sans-serif' transform="translate(367.40,171.00) rotate(-90)" >Module Expression</text>
<polygon points="386.60,172.00 386.60,172.15 386.61,172.34 386.62,172.57 386.60,172.84 386.53,173.15 386.40,173.50 386.21,173.89 385.96,174.32 385.68,174.79 385.35,175.29 384.97,175.83 384.55,176.40 384.07,177.02 383.53,177.68 382.94,178.38 382.33,179.10 381.71,179.81 381.10,180.50 380.41,181.19 379.61,181.89 378.80,182.58 378.09,183.26 377.59,183.90 377.40,184.50 377.58,185.04 378.05,185.54 378.73,186.01 379.52,186.46 380.34,186.88 381.10,187.30 381.85,187.71 382.69,188.11 383.54,188.50 384.38,188.86 385.15,189.20 385.80,189.50 386.34,189.77 386.80,190.02 387.19,190.24 387.52,190.43 387.79,190.58 388.00,190.70 388.60,190.70 388.81,190.58 389.08,190.43 389.41,190.24 389.80,190.02 390.26,189.77 390.80,189.50 391.45,189.20 392.22,188.86 393.06,188.50 393.91,188.11 394.75,187.71 395.50,187.30 396.26,186.88 397.08,186.46 397.88,186.01 398.55,185.54 399.02,185.04 399.20,184.50 399.01,183.90 398.51,183.26 397.80,182.58 396.99,181.89 396.19,181.19 395.50,180.50 394.89,179.81 394.27,179.10 393.66,178.38 393.07,177.68 392.53,177.02 392.05,176.40 391.63,175.83 391.25,175.29 390.92,174.79 390.64,174.32 390.39,173.89 390.20,173.50 390.07,173.15 390.00,172.84 389.98,172.57 389.99,172.34 390.00,172.15 390.00,172.00" fill="#c8e5f9"/>
<line x1="388.30" y1="192.80" x2="388.30" y2="194.10" stroke="#555" stroke-width="0.6" />
<text x="0.00" y="0.00" font-size="4.55" text-anchor="end" fill="#222" font-family='"Liberation Sans", sans-serif' transform="translate(390.00,198.00) rotate(-45)" >CONTROLNormal</text>
<polygon points="411.80,155.60 411.76,155.78 411.70,156.02 411.64,156.31 411.55,156.65 411.44,157.05 411.30,157.50 411.12,158.03 410.92,158.64 410.69,159.31 410.44,160.01 410.17,160.72 409.90,161.40 409.61,162.05 409.30,162.68 408.97,163.31 408.64,163.98 408.31,164.70 408.00,165.50 407.67,166.40 407.30,167.39 406.94,168.43 406.63,169.49 406.40,170.56 406.30,171.60 406.36,172.62 406.54,173.66 406.81,174.69 407.13,175.71 407.44,176.72 407.70,177.70 407.93,178.68 408.16,179.68 408.39,180.66 408.61,181.59 408.81,182.45 409.00,183.20 409.15,183.84 409.28,184.39 409.39,184.87 409.50,185.29 409.63,185.66 409.80,186.00 410.03,186.31 410.30,186.56 410.60,186.78 410.89,186.95 411.13,187.09 411.30,187.20 412.90,187.20 413.07,187.09 413.31,186.95 413.60,186.78 413.90,186.56 414.17,186.31 414.40,186.00 414.57,185.66 414.70,185.29 414.81,184.87 414.92,184.39 415.05,183.84 415.20,183.20 415.39,182.45 415.59,181.59 415.81,180.66 416.04,179.68 416.27,178.68 416.50,177.70 416.76,176.72 417.07,175.71 417.39,174.69 417.66,173.66 417.84,172.62 417.90,171.60 417.80,170.56 417.57,169.49 417.26,168.43 416.90,167.39 416.53,166.40 416.20,165.50 415.89,164.70 415.56,163.98 415.23,163.31 414.90,162.68 414.59,162.05 414.30,161.40 414.03,160.72 413.76,160.01 413.51,159.31 413.28,158.64 413.08,158.03 412.90,157.50 412.76,157.05 412.65,156.65 412.56,156.31 412.50,156.02 412.44,155.78 412.40,155.60" fill="#77bff2"/>
<line x1="412.10" y1="192.80" x2="412.10" y2="194.10" stroke="#555" stroke-width="0.6" />
<text x="0.00" y="0.00" font-size="4.55" text-anchor="end" fill="#222" font-family='"Liberation Sans", sans-serif' transform="translate(413.80,198.00) rotate(-45)" >HCMNormal</text>
<polygon points="434.30,160.00 434.25,160.06 434.18,160.11 434.10,160.19 434.00,160.32 433.86,160.51 433.70,160.80 433.49,161.16 433.25,161.59 432.98,162.08 432.69,162.65 432.40,163.32 432.10,164.10 431.77,165.03 431.39,166.11 431.00,167.28 430.64,168.50 430.36,169.73 430.20,170.90 430.17,172.05 430.25,173.21 430.40,174.38 430.59,175.53 430.80,176.64 431.00,177.70 431.20,178.73 431.43,179.74 431.68,180.72 431.92,181.64 432.15,182.48 432.35,183.20 432.50,183.80 432.62,184.29 432.72,184.69 432.82,185.03 432.94,185.33 433.10,185.60 433.32,185.84 433.60,186.01 433.90,186.15 434.18,186.25 434.43,186.33 434.60,186.40 437.60,186.40 437.77,186.33 438.02,186.25 438.30,186.15 438.60,186.01 438.88,185.84 439.10,185.60 439.26,185.33 439.38,185.03 439.48,184.69 439.58,184.29 439.70,183.80 439.85,183.20 440.05,182.48 440.28,181.64 440.52,180.72 440.77,179.74 441.00,178.73 441.20,177.70 441.40,176.64 441.61,175.53 441.80,174.38 441.95,173.21 442.03,172.05 442.00,170.90 441.84,169.73 441.56,168.50 441.20,167.28 440.81,166.11 440.43,165.03 440.10,164.10 439.80,163.32 439.51,162.65 439.22,162.08 438.95,161.59 438.71,161.16 438.50,160.80 438.34,160.51 438.20,160.32 438.10,160.19 438.02,160.11 437.95,160.06 437.90,160.00" fill="#0d7edd"/>
<line x1="436.10" y1="192.80" x2="436.10" y2="194.10" stroke="#555" stroke-width="0.6" />
<text x="0.00" y="0.00" font-size="4.55" text-anchor="end" fill="#222" font-family='"Liberation Sans", sans-serif' transform="translate(437.80,198.00) rotate(-45)" >HCMMild</text>
<polygon points="459.50,152.20 459.36,152.75 459.17,153.51 458.95,154.41 458.70,155.39 458.45,156.41 458.20,157.40 457.94,158.37 457.66,159.38 457.37,160.41 457.09,161.48 456.82,162.57 456.60,163.70 456.41,164.87 456.23,166.08 456.08,167.32 455.96,168.59 455.86,169.85 455.80,171.10 455.78,172.36 455.80,173.64 455.85,174.92 455.92,176.19 456.01,177.42 456.10,178.60 456.20,179.74 456.31,180.87 456.43,181.97 456.57,183.00 456.73,183.96 456.90,184.80 457.10,185.53 457.33,186.15 457.57,186.69 457.83,187.16 458.07,187.59 458.30,188.00 458.53,188.38 458.76,188.71 458.99,189.00 459.20,189.24 459.37,189.44 459.50,189.60 460.10,189.60 460.23,189.44 460.40,189.24 460.61,189.00 460.84,188.71 461.07,188.38 461.30,188.00 461.53,187.59 461.77,187.16 462.03,186.69 462.27,186.15 462.50,185.53 462.70,184.80 462.87,183.96 463.03,183.00 463.17,181.97 463.29,180.87 463.40,179.74 463.50,178.60 463.59,177.42 463.68,176.19 463.75,174.92 463.80,173.64 463.82,172.36 463.80,171.10 463.74,169.85 463.64,168.59 463.52,167.32 463.37,166.08 463.19,164.87 463.00,163.70 462.78,162.57 462.51,161.48 462.23,160.41 461.94,159.38 461.66,158.37 461.40,157.40 461.15,156.41 460.90,155.39 460.65,154.41 460.43,153.51 460.24,152.75 460.10,152.20" fill="#fbc2df"/>
<line x1="459.80" y1="192.80" x2="459.80" y2="194.10" stroke="#555" stroke-width="0.6" />
<text x="0.00" y="0.00" font-size="4.55" text-anchor="end" fill="#222" font-family='"Liberation Sans", sans-serif' transform="translate(461.50,198.00) rotate(-45)" >HCMModerate</text>
<polygon points="483.00,152.20 482.96,152.27 482.91,152.34 482.86,152.44 482.79,152.59 482.70,152.84 482.60,153.20 482.49,153.69 482.36,154.29 482.23,154.97 482.07,155.73 481.90,156.54 481.70,157.40 481.47,158.32 481.19,159.30 480.90,160.35 480.61,161.44 480.33,162.56 480.10,163.70 479.89,164.87 479.70,166.08 479.53,167.32 479.38,168.59 479.27,169.85 479.20,171.10 479.18,172.36 479.20,173.64 479.26,174.92 479.35,176.19 479.47,177.42 479.60,178.60 479.76,179.75 479.96,180.88 480.19,181.98 480.43,183.02 480.67,183.97 480.90,184.80 481.13,185.51 481.38,186.11 481.62,186.63 481.87,187.07 482.09,187.45 482.30,187.80 482.49,188.09 482.67,188.32 482.84,188.49 482.99,188.61 483.11,188.71 483.20,188.80 484.00,188.80 484.09,188.71 484.21,188.61 484.36,188.49 484.53,188.32 484.71,188.09 484.90,187.80 485.11,187.45 485.33,187.07 485.58,186.63 485.82,186.11 486.07,185.51 486.30,184.80 486.53,183.97 486.77,183.02 487.01,181.98 487.24,180.88 487.44,179.75 487.60,178.60 487.73,177.42 487.85,176.19 487.94,174.92 488.00,173.64 488.02,172.36 488.00,171.10 487.93,169.85 487.82,168.59 487.68,167.32 487.50,166.08 487.31,164.87 487.10,163.70 486.87,162.56 486.59,161.44 486.30,160.35 486.01,159.30 485.73,158.32 485.50,157.40 485.30,156.54 485.13,155.73 484.98,154.97 484.84,154.29 484.71,153.69 484.60,153.20 484.50,152.84 484.41,152.59 484.34,152.44 484.29,152.34 484.24,152.27 484.20,152.20" fill="#f77cbb"/>
<line x1="483.60" y1="192.80" x2="483.60" y2="194.10" stroke="#555" stroke-width="0.6" />
<text x="0.00" y="0.00" font-size="4.55" text-anchor="end" fill="#222" font-family='"Liberation Sans", sans-serif' transform="translate(485.30,198.00) rotate(-45)" >HCMSevere</text>
<rect x="505.00" y="158.72" width="5.90" height="6.56" fill="#c8e5f9" stroke="#7a7a7a" stroke-width="0.5" />
<text x="0.00" y="0.00" font-size="4.5" text-anchor="start" fill="#474747" font-family='"Liberation Sans", sans-serif' transform="translate(513.40,163.90) scale(0.8067,1)" >CONTROL Normal</text>
<rect x="505.00" y="165.28" width="5.90" height="6.56" fill="#77bff2" stroke="#7a7a7a" stroke-width="0.5" />
<text x="0.00" y="0.00" font-size="4.5" text-anchor="start" fill="#474747" font-family='"Liberation Sans", sans-serif' transform="translate(513.40,170.46) scale(0.8067,1)" >HCM Normal</text>
<rect x="505.00" y="171.84" width="5.90" height="6.56" fill="#0d7edd" stroke="#7a7a7a" stroke-width="0.5" />
<text x="0.00" y="0.00" font-size="4.5" text-anchor="start" fill="#474747" font-family='"Liberation Sans", sans-serif' transform="translate(513.40,177.02) scale(0.8067,1)" >HCM Mild</text>
<rect x="505.00" y="178.40" width="5.90" height="6.56" fill="#fbc2df" stroke="#7a7a7a" stroke-width="0.5" />
<text x="0.00" y="0.00" font-size="4.5" text-anchor="start" fill="#474747" font-family='"Liberation Sans", sans-serif' transform="translate(513.40,183.58) scale(0.8067,1)" >HCM Moderate</text>
<rect x="505.00" y="184.96" width="5.90" height="6.56" fill="#f77cbb" stroke="#7a7a7a" stroke-width="0.5" />
<text x="0.00" y="0.00" font-size="4.5" text-anchor="start" fill="#474747" font-family='"Liberation Sans", sans-serif' transform="translate(513.40,190.14) scale(0.8067,1)" >HCM Severe</text>
<text x="377.30" y="239.00" font-size="5.4648" text-anchor="start" fill="#111" font-family='"Liberation Sans", sans-serif' >Regulation of type I interferon production</text>
<line x1="377.50" y1="239.50" x2="377.50" y2="284.10" stroke="#555" stroke-width="0.95" />
<line x1="377.05" y1="284.10" x2="497.90" y2="284.10" stroke="#555" stroke-width="0.95" />
<line x1="376.20" y1="242.70" x2="377.50" y2="242.70" stroke="#555" stroke-width="0.6" />
<text x="0.00" y="0.00" font-size="4.5" text-anchor="end" fill="#333" font-family='"Liberation Sans", sans-serif' transform="translate(375.60,244.30) scale(0.9778,1)" >6.5</text>
<line x1="376.20" y1="253.10" x2="377.50" y2="253.10" stroke="#555" stroke-width="0.6" />
<text x="0.00" y="0.00" font-size="4.5" text-anchor="end" fill="#333" font-family='"Liberation Sans", sans-serif' transform="translate(375.60,254.70) scale(0.9778,1)" >6.0</text>
<line x1="376.20" y1="263.30" x2="377.50" y2="263.30" stroke="#555" stroke-width="0.6" />
<text x="0.00" y="0.00" font-size="4.5" text-anchor="end" fill="#333" font-family='"Liberation Sans", sans-serif' transform="translate(375.60,264.90) scale(0.9778,1)" >5.5</text>
<line x1="376.20" y1="273.60" x2="377.50" y2="273.60" stroke="#555" stroke-width="0.6" />
<text x="0.00" y="0.00" font-size="4.5" text-anchor="end" fill="#333" font-family='"Liberation Sans", sans-serif' transform="translate(375.60,275.20) scale(0.9778,1)" >5.0</text>
<line x1="376.20" y1="283.80" x2="377.50" y2="283.80" stroke="#555" stroke-width="0.6" />
<text x="0.00" y="0.00" font-size="4.5" text-anchor="end" fill="#333" font-family='"Liberation Sans", sans-serif' transform="translate(375.60,285.40) scale(0.9778,1)" >4.5</text>
<text x="0.00" y="0.00" font-size="4.67" text-anchor="middle" fill="#222" font-family='"Liberation Sans", sans-serif' transform="translate(367.40,263.30) rotate(-90)" >Module Expression</text>
<polygon points="391.30,244.10 391.09,244.41 390.83,244.86 390.51,245.38 390.13,245.92 389.69,246.45 389.20,246.90 388.63,247.28 387.98,247.62 387.28,247.94 386.54,248.26 385.81,248.57 385.10,248.90 384.35,249.25 383.53,249.60 382.71,249.95 381.96,250.30 381.37,250.65 381.00,251.00 380.88,251.34 380.96,251.67 381.19,252.01 381.53,252.34 381.95,252.67 382.40,253.00 382.94,253.33 383.60,253.66 384.33,253.99 385.09,254.33 385.83,254.66 386.50,255.00 387.12,255.35 387.75,255.70 388.35,256.06 388.91,256.41 389.40,256.76 389.80,257.10 390.10,257.43 390.30,257.76 390.44,258.09 390.53,258.40 390.61,258.71 390.70,259.00 390.79,259.29 390.86,259.59 390.91,259.87 390.94,260.13 390.97,260.34 391.00,260.50 392.20,260.50 392.23,260.34 392.26,260.13 392.29,259.87 392.34,259.59 392.41,259.29 392.50,259.00 392.59,258.71 392.67,258.40 392.76,258.09 392.90,257.76 393.10,257.43 393.40,257.10 393.80,256.76 394.29,256.41 394.85,256.06 395.45,255.70 396.08,255.35 396.70,255.00 397.37,254.66 398.11,254.33 398.87,253.99 399.60,253.66 400.26,253.33 400.80,253.00 401.25,252.67 401.67,252.34 402.01,252.01 402.24,251.67 402.32,251.34 402.20,251.00 401.83,250.65 401.24,250.30 400.49,249.95 399.67,249.60 398.85,249.25 398.10,248.90 397.39,248.57 396.66,248.26 395.93,247.94 395.22,247.62 394.57,247.28 394.00,246.90 393.51,246.45 393.07,245.92 392.69,245.38 392.37,244.86 392.11,244.41 391.90,244.10" fill="#c8e5f9"/>
<line x1="391.60" y1="284.10" x2="391.60" y2="285.40" stroke="#555" stroke-width="0.6" />
<text x="0.00" y="0.00" font-size="4.55" text-anchor="end" fill="#222" font-family='"Liberation Sans", sans-serif' transform="translate(393.30,289.30) rotate(-45)" >CONTROLNormal</text>
<polygon points="414.20,251.60 414.05,251.90 413.87,252.30 413.65,252.79 413.36,253.32 412.98,253.87 412.50,254.40 411.85,254.95 411.02,255.54 410.11,256.15 409.20,256.75 408.37,257.31 407.70,257.80 407.18,258.21 406.74,258.54 406.38,258.84 406.10,259.13 405.90,259.44 405.80,259.80 405.80,260.21 405.89,260.64 406.07,261.10 406.32,261.57 406.64,262.04 407.00,262.50 407.45,262.97 408.00,263.46 408.61,263.94 409.24,264.42 409.85,264.88 410.40,265.30 410.92,265.68 411.43,266.02 411.93,266.34 412.39,266.65 412.79,266.96 413.10,267.30 413.32,267.65 413.44,268.01 413.51,268.38 413.54,268.75 413.57,269.13 413.60,269.50 413.64,269.90 413.67,270.34 413.68,270.79 413.69,271.20 413.69,271.55 413.70,271.80 415.30,271.80 415.31,271.55 415.31,271.20 415.32,270.79 415.33,270.34 415.36,269.90 415.40,269.50 415.43,269.13 415.46,268.75 415.49,268.38 415.56,268.01 415.68,267.65 415.90,267.30 416.21,266.96 416.61,266.65 417.07,266.34 417.57,266.02 418.08,265.68 418.60,265.30 419.15,264.88 419.76,264.42 420.39,263.94 421.00,263.46 421.55,262.97 422.00,262.50 422.36,262.04 422.68,261.57 422.93,261.10 423.11,260.64 423.20,260.21 423.20,259.80 423.10,259.44 422.90,259.13 422.62,258.84 422.26,258.54 421.82,258.21 421.30,257.80 420.63,257.31 419.80,256.75 418.89,256.15 417.98,255.54 417.15,254.95 416.50,254.40 416.02,253.87 415.64,253.32 415.35,252.79 415.13,252.30 414.95,251.90 414.80,251.60" fill="#77bff2"/>
<line x1="414.50" y1="284.10" x2="414.50" y2="285.40" stroke="#555" stroke-width="0.6" />
<text x="0.00" y="0.00" font-size="4.55" text-anchor="end" fill="#222" font-family='"Liberation Sans", sans-serif' transform="translate(416.20,289.30) rotate(-45)" >HCMNormal</text>
<polygon points="435.00,254.10 434.89,254.15 434.75,254.21 434.57,254.28 434.37,254.37 434.15,254.48 433.90,254.60 433.61,254.73 433.26,254.86 432.89,255.01 432.52,255.19 432.18,255.41 431.90,255.70 431.69,256.07 431.51,256.51 431.38,257.00 431.25,257.51 431.13,258.02 431.00,258.50 430.83,258.96 430.63,259.41 430.44,259.86 430.28,260.30 430.19,260.75 430.20,261.20 430.32,261.65 430.53,262.10 430.81,262.55 431.14,263.00 431.51,263.45 431.90,263.90 432.34,264.36 432.85,264.82 433.40,265.29 433.95,265.74 434.46,266.18 434.90,266.60 435.27,266.99 435.61,267.36 435.91,267.71 436.18,268.04 436.41,268.37 436.60,268.70 436.75,269.02 436.84,269.34 436.90,269.65 436.94,269.95 436.97,270.23 437.00,270.50 437.04,270.76 437.06,271.02 437.07,271.26 437.09,271.48 437.09,271.66 437.10,271.80 438.90,271.80 438.91,271.66 438.91,271.48 438.93,271.26 438.94,271.02 438.96,270.76 439.00,270.50 439.03,270.23 439.06,269.95 439.10,269.65 439.16,269.34 439.25,269.02 439.40,268.70 439.59,268.37 439.82,268.04 440.09,267.71 440.39,267.36 440.73,266.99 441.10,266.60 441.54,266.18 442.05,265.74 442.60,265.29 443.15,264.82 443.66,264.36 444.10,263.90 444.49,263.45 444.86,263.00 445.19,262.55 445.47,262.10 445.68,261.65 445.80,261.20 445.81,260.75 445.72,260.30 445.56,259.86 445.37,259.41 445.17,258.96 445.00,258.50 444.87,258.02 444.75,257.51 444.62,257.00 444.49,256.51 444.31,256.07 444.10,255.70 443.82,255.41 443.48,255.19 443.11,255.01 442.74,254.86 442.39,254.73 442.10,254.60 441.85,254.48 441.63,254.37 441.43,254.28 441.25,254.21 441.11,254.15 441.00,254.10" fill="#0d7edd"/>
<line x1="438.00" y1="284.10" x2="438.00" y2="285.40" stroke="#555" stroke-width="0.6" />
<text x="0.00" y="0.00" font-size="4.55" text-anchor="end" fill="#222" font-family='"Liberation Sans", sans-serif' transform="translate(439.70,289.30) rotate(-45)" >HCMMild</text>
<polygon points="460.60,249.50 460.43,249.87 460.22,250.37 459.97,250.96 459.65,251.61 459.28,252.27 458.85,252.90 458.31,253.52 457.65,254.16 456.93,254.82 456.22,255.47 455.55,256.10 455.00,256.70 454.52,257.26 454.06,257.79 453.65,258.29 453.34,258.79 453.14,259.29 453.10,259.80 453.26,260.32 453.59,260.83 454.04,261.35 454.56,261.87 455.10,262.38 455.60,262.90 456.11,263.42 456.66,263.96 457.24,264.49 457.79,265.01 458.29,265.52 458.70,266.00 459.01,266.45 459.24,266.88 459.42,267.29 459.56,267.69 459.68,268.09 459.80,268.50 459.91,268.95 460.00,269.43 460.07,269.91 460.12,270.35 460.16,270.73 460.20,271.00 461.60,271.00 461.64,270.73 461.68,270.35 461.73,269.91 461.80,269.43 461.89,268.95 462.00,268.50 462.12,268.09 462.24,267.69 462.38,267.29 462.56,266.88 462.79,266.45 463.10,266.00 463.51,265.52 464.01,265.01 464.56,264.49 465.14,263.96 465.69,263.42 466.20,262.90 466.70,262.38 467.24,261.87 467.76,261.35 468.21,260.83 468.54,260.32 468.70,259.80 468.66,259.29 468.46,258.79 468.15,258.29 467.74,257.79 467.28,257.26 466.80,256.70 466.25,256.10 465.58,255.47 464.87,254.82 464.15,254.16 463.49,253.52 462.95,252.90 462.52,252.27 462.15,251.61 461.83,250.96 461.58,250.37 461.37,249.87 461.20,249.50" fill="#fbc2df"/>
<line x1="460.90" y1="284.10" x2="460.90" y2="285.40" stroke="#555" stroke-width="0.6" />
<text x="0.00" y="0.00" font-size="4.55" text-anchor="end" fill="#222" font-family='"Liberation Sans", sans-serif' transform="translate(462.60,289.30) rotate(-45)" >HCMModerate</text>
<polygon points="483.60,248.60 483.34,249.01 482.98,249.58 482.56,250.26 482.10,250.97 481.63,251.68 481.20,252.30 480.77,252.86 480.31,253.40 479.85,253.93 479.41,254.43 479.02,254.93 478.70,255.40 478.44,255.84 478.22,256.23 478.04,256.61 477.93,256.99 477.87,257.42 477.90,257.90 478.02,258.46 478.23,259.07 478.50,259.72 478.82,260.39 479.16,261.06 479.50,261.70 479.87,262.32 480.30,262.94 480.75,263.56 481.19,264.17 481.58,264.78 481.90,265.40 482.13,265.99 482.30,266.55 482.42,267.11 482.52,267.70 482.61,268.36 482.70,269.10 482.79,269.94 482.86,270.86 482.92,271.83 482.98,272.86 483.04,273.92 483.10,275.00 483.17,276.21 483.25,277.57 483.32,278.97 483.40,280.29 483.46,281.40 483.50,282.20 484.30,282.20 484.34,281.40 484.40,280.29 484.47,278.97 484.55,277.57 484.63,276.21 484.70,275.00 484.76,273.92 484.82,272.86 484.88,271.83 484.94,270.86 485.01,269.94 485.10,269.10 485.19,268.36 485.28,267.70 485.38,267.11 485.50,266.55 485.67,265.99 485.90,265.40 486.22,264.78 486.61,264.17 487.05,263.56 487.50,262.94 487.93,262.32 488.30,261.70 488.64,261.06 488.98,260.39 489.30,259.72 489.57,259.07 489.78,258.46 489.90,257.90 489.93,257.42 489.87,256.99 489.76,256.61 489.58,256.23 489.36,255.84 489.10,255.40 488.78,254.93 488.39,254.43 487.95,253.93 487.49,253.40 487.03,252.86 486.60,252.30 486.17,251.68 485.70,250.97 485.24,250.26 484.82,249.58 484.46,249.01 484.20,248.60" fill="#f77cbb"/>
<line x1="483.90" y1="284.10" x2="483.90" y2="285.40" stroke="#555" stroke-width="0.6" />
<text x="0.00" y="0.00" font-size="4.55" text-anchor="end" fill="#222" font-family='"Liberation Sans", sans-serif' transform="translate(485.60,289.30) rotate(-45)" >HCMSevere</text>
<rect x="505.00" y="250.12" width="5.90" height="6.56" fill="#c8e5f9" stroke="#7a7a7a" stroke-width="0.5" />
<text x="0.00" y="0.00" font-size="4.5" text-anchor="start" fill="#474747" font-family='"Liberation Sans", sans-serif' transform="translate(513.40,255.30) scale(0.8067,1)" >CONTROL Normal</text>
<rect x="505.00" y="256.68" width="5.90" height="6.56" fill="#77bff2" stroke="#7a7a7a" stroke-width="0.5" />
<text x="0.00" y="0.00" font-size="4.5" text-anchor="start" fill="#474747" font-family='"Liberation Sans", sans-serif' transform="translate(513.40,261.86) scale(0.8067,1)" >HCM Normal</text>
<rect x="505.00" y="263.24" width="5.90" height="6.56" fill="#0d7edd" stroke="#7a7a7a" stroke-width="0.5" />
<text x="0.00" y="0.00" font-size="4.5" text-anchor="start" fill="#474747" font-family='"Liberation Sans", sans-serif' transform="translate(513.40,268.42) scale(0.8067,1)" >HCM Mild</text>
<rect x="505.00" y="269.80" width="5.90" height="6.56" fill="#fbc2df" stroke="#7a7a7a" stroke-width="0.5" />
<text x="0.00" y="0.00" font-size="4.5" text-anchor="start" fill="#474747" font-family='"Liberation Sans", sans-serif' transform="translate(513.40,274.98) scale(0.8067,1)" >HCM Moderate</text>
<rect x="505.00" y="276.36" width="5.90" height="6.56" fill="#f77cbb" stroke="#7a7a7a" stroke-width="0.5" />
<text x="0.00" y="0.00" font-size="4.5" text-anchor="start" fill="#474747" font-family='"Liberation Sans", sans-serif' transform="translate(513.40,281.54) scale(0.8067,1)" >HCM Severe</text>
<text x="374.10" y="322.20" font-size="5.4142" text-anchor="start" fill="#111" font-family='"Liberation Sans", sans-serif' >Extracellular Matrix</text>
<line x1="374.30" y1="325.00" x2="374.30" y2="367.00" stroke="#555" stroke-width="0.95" />
<line x1="373.85" y1="367.00" x2="497.90" y2="367.00" stroke="#555" stroke-width="0.95" />
<line x1="373.00" y1="331.20" x2="374.30" y2="331.20" stroke="#555" stroke-width="0.6" />
<text x="0.00" y="0.00" font-size="4.5" text-anchor="end" fill="#333" font-family='"Liberation Sans", sans-serif' transform="translate(372.40,332.80) scale(0.9778,1)" >8</text>
<line x1="373.00" y1="341.30" x2="374.30" y2="341.30" stroke="#555" stroke-width="0.6" />
<text x="0.00" y="0.00" font-size="4.5" text-anchor="end" fill="#333" font-family='"Liberation Sans", sans-serif' transform="translate(372.40,342.90) scale(0.9778,1)" >7</text>
<line x1="373.00" y1="351.60" x2="374.30" y2="351.60" stroke="#555" stroke-width="0.6" />
<text x="0.00" y="0.00" font-size="4.5" text-anchor="end" fill="#333" font-family='"Liberation Sans", sans-serif' transform="translate(372.40,353.20) scale(0.9778,1)" >6</text>
<line x1="373.00" y1="361.80" x2="374.30" y2="361.80" stroke="#555" stroke-width="0.6" />
<text x="0.00" y="0.00" font-size="4.5" text-anchor="end" fill="#333" font-family='"Liberation Sans", sans-serif' transform="translate(372.40,363.40) scale(0.9778,1)" >5</text>
<text x="0.00" y="0.00" font-size="4.67" text-anchor="middle" fill="#222" font-family='"Liberation Sans", sans-serif' transform="translate(367.40,346.00) rotate(-90)" >Module Expression</text>
<polygon points="388.00,345.00 388.01,345.13 388.04,345.30 388.07,345.51 388.06,345.74 387.94,346.01 387.70,346.30 387.33,346.63 386.86,346.99 386.30,347.39 385.65,347.80 384.92,348.21 384.10,348.60 383.04,348.98 381.71,349.36 380.29,349.74 378.98,350.12 377.95,350.51 377.40,350.90 377.40,351.30 377.82,351.71 378.53,352.12 379.40,352.54 380.30,352.97 381.10,353.40 381.87,353.85 382.72,354.33 383.60,354.81 384.46,355.27 385.24,355.71 385.90,356.10 386.43,356.45 386.88,356.77 387.25,357.07 387.56,357.33 387.80,357.54 388.00,357.70 388.60,357.70 388.80,357.54 389.04,357.33 389.35,357.07 389.72,356.77 390.17,356.45 390.70,356.10 391.36,355.71 392.14,355.27 393.00,354.81 393.88,354.33 394.73,353.85 395.50,353.40 396.30,352.97 397.20,352.54 398.07,352.12 398.78,351.71 399.20,351.30 399.20,350.90 398.65,350.51 397.62,350.12 396.31,349.74 394.89,349.36 393.56,348.98 392.50,348.60 391.68,348.21 390.95,347.80 390.30,347.39 389.74,346.99 389.27,346.63 388.90,346.30 388.66,346.01 388.54,345.74 388.53,345.51 388.56,345.30 388.59,345.13 388.60,345.00" fill="#c8e5f9"/>
<line x1="388.30" y1="367.00" x2="388.30" y2="368.30" stroke="#555" stroke-width="0.6" />
<text x="0.00" y="0.00" font-size="4.55" text-anchor="end" fill="#222" font-family='"Liberation Sans", sans-serif' transform="translate(390.00,372.20) rotate(-45)" >CONTROLNormal</text>
<polygon points="411.60,326.80 411.56,327.12 411.49,327.54 411.42,328.05 411.34,328.64 411.27,329.29 411.20,330.00 411.15,330.78 411.10,331.64 411.06,332.57 411.02,333.55 410.97,334.56 410.90,335.60 410.82,336.70 410.72,337.89 410.62,339.11 410.51,340.31 410.40,341.46 410.30,342.50 410.22,343.43 410.15,344.28 410.09,345.07 410.00,345.81 409.88,346.52 409.70,347.20 409.44,347.84 409.11,348.43 408.75,348.98 408.37,349.51 408.01,350.05 407.70,350.60 407.38,351.17 407.04,351.76 406.71,352.34 406.44,352.91 406.29,353.47 406.30,354.00 406.52,354.51 406.92,355.01 407.43,355.50 407.99,355.96 408.54,356.40 409.00,356.80 409.40,357.17 409.80,357.52 410.18,357.84 410.53,358.13 410.84,358.39 411.10,358.60 411.31,358.76 411.46,358.88 411.58,358.96 411.67,359.02 411.74,359.06 411.80,359.10 412.40,359.10 412.46,359.06 412.53,359.02 412.62,358.96 412.74,358.88 412.89,358.76 413.10,358.60 413.36,358.39 413.67,358.13 414.03,357.84 414.40,357.52 414.80,357.17 415.20,356.80 415.66,356.40 416.21,355.96 416.77,355.50 417.28,355.01 417.68,354.51 417.90,354.00 417.91,353.47 417.76,352.91 417.49,352.34 417.16,351.76 416.82,351.17 416.50,350.60 416.19,350.05 415.83,349.51 415.45,348.98 415.09,348.43 414.76,347.84 414.50,347.20 414.32,346.52 414.20,345.81 414.11,345.07 414.05,344.28 413.98,343.43 413.90,342.50 413.80,341.46 413.69,340.31 413.58,339.11 413.48,337.89 413.38,336.70 413.30,335.60 413.23,334.56 413.18,333.55 413.14,332.57 413.10,331.64 413.05,330.78 413.00,330.00 412.93,329.29 412.86,328.64 412.78,328.05 412.71,327.54 412.64,327.12 412.60,326.80" fill="#77bff2"/>
<line x1="412.10" y1="367.00" x2="412.10" y2="368.30" stroke="#555" stroke-width="0.6" />
<text x="0.00" y="0.00" font-size="4.55" text-anchor="end" fill="#222" font-family='"Liberation Sans", sans-serif' transform="translate(413.80,372.20) rotate(-45)" >HCMNormal</text>
<polygon points="435.60,333.20 435.56,333.31 435.50,333.44 435.44,333.61 435.36,333.83 435.28,334.12 435.20,334.50 435.11,334.97 435.01,335.50 434.91,336.11 434.81,336.79 434.70,337.55 434.60,338.40 434.50,339.40 434.41,340.55 434.32,341.79 434.22,343.03 434.12,344.19 434.00,345.20 433.88,346.05 433.76,346.79 433.64,347.46 433.49,348.09 433.32,348.69 433.10,349.30 432.81,349.92 432.45,350.54 432.06,351.13 431.67,351.70 431.34,352.22 431.10,352.70 430.93,353.11 430.81,353.45 430.74,353.76 430.72,354.05 430.77,354.35 430.90,354.70 431.13,355.10 431.46,355.54 431.86,355.99 432.29,356.44 432.71,356.85 433.10,357.20 433.47,357.50 433.86,357.76 434.24,357.99 434.61,358.19 434.93,358.36 435.20,358.50 435.41,358.61 435.56,358.69 435.68,358.73 435.77,358.76 435.84,358.78 435.90,358.80 436.50,358.80 436.56,358.78 436.63,358.76 436.72,358.73 436.84,358.69 436.99,358.61 437.20,358.50 437.47,358.36 437.79,358.19 438.16,357.99 438.54,357.76 438.93,357.50 439.30,357.20 439.69,356.85 440.11,356.44 440.54,355.99 440.94,355.54 441.27,355.10 441.50,354.70 441.63,354.35 441.68,354.05 441.66,353.76 441.59,353.45 441.47,353.11 441.30,352.70 441.06,352.22 440.73,351.70 440.34,351.13 439.95,350.54 439.59,349.92 439.30,349.30 439.08,348.69 438.91,348.09 438.76,347.46 438.64,346.79 438.52,346.05 438.40,345.20 438.28,344.19 438.18,343.03 438.08,341.79 437.99,340.55 437.90,339.40 437.80,338.40 437.70,337.55 437.59,336.79 437.49,336.11 437.39,335.50 437.29,334.97 437.20,334.50 437.12,334.12 437.04,333.83 436.96,333.61 436.90,333.44 436.84,333.31 436.80,333.20" fill="#0d7edd"/>
<line x1="436.20" y1="367.00" x2="436.20" y2="368.30" stroke="#555" stroke-width="0.6" />
<text x="0.00" y="0.00" font-size="4.55" text-anchor="end" fill="#222" font-family='"Liberation Sans", sans-serif' transform="translate(437.90,372.20) rotate(-45)" >HCMMild</text>
<polygon points="459.40,329.50 459.37,330.10 459.32,330.92 459.26,331.89 459.20,332.95 459.15,334.01 459.10,335.00 459.07,335.93 459.06,336.87 459.06,337.81 459.04,338.76 458.99,339.72 458.90,340.70 458.78,341.72 458.65,342.77 458.49,343.84 458.29,344.90 458.03,345.93 457.70,346.90 457.26,347.82 456.71,348.70 456.11,349.56 455.51,350.37 454.95,351.16 454.50,351.90 454.12,352.60 453.76,353.25 453.45,353.87 453.22,354.46 453.09,355.03 453.10,355.60 453.27,356.16 453.60,356.72 454.03,357.26 454.52,357.77 455.03,358.25 455.50,358.70 455.97,359.11 456.49,359.49 457.02,359.84 457.54,360.16 458.01,360.44 458.40,360.70 458.71,360.92 458.97,361.11 459.18,361.28 459.35,361.41 459.49,361.51 459.60,361.60 460.20,361.60 460.31,361.51 460.45,361.41 460.62,361.28 460.83,361.11 461.09,360.92 461.40,360.70 461.79,360.44 462.26,360.16 462.77,359.84 463.31,359.49 463.83,359.11 464.30,358.70 464.77,358.25 465.28,357.77 465.77,357.26 466.20,356.72 466.53,356.16 466.70,355.60 466.71,355.03 466.58,354.46 466.35,353.87 466.04,353.25 465.68,352.60 465.30,351.90 464.85,351.16 464.29,350.37 463.69,349.56 463.09,348.70 462.54,347.82 462.10,346.90 461.77,345.93 461.51,344.90 461.31,343.84 461.15,342.77 461.02,341.72 460.90,340.70 460.81,339.72 460.76,338.76 460.74,337.81 460.74,336.87 460.73,335.93 460.70,335.00 460.65,334.01 460.60,332.95 460.54,331.89 460.48,330.92 460.43,330.10 460.40,329.50" fill="#fbc2df"/>
<line x1="459.90" y1="367.00" x2="459.90" y2="368.30" stroke="#555" stroke-width="0.6" />
<text x="0.00" y="0.00" font-size="4.55" text-anchor="end" fill="#222" font-family='"Liberation Sans", sans-serif' transform="translate(461.60,372.20) rotate(-45)" >HCMModerate</text>
<polygon points="483.20,337.60 483.15,337.77 483.07,337.98 482.99,338.24 482.89,338.57 482.79,338.99 482.70,339.50 482.63,340.13 482.57,340.86 482.52,341.68 482.44,342.56 482.31,343.47 482.10,344.40 481.80,345.38 481.41,346.44 480.98,347.53 480.53,348.62 480.09,349.66 479.70,350.60 479.31,351.45 478.89,352.23 478.49,352.96 478.14,353.65 477.90,354.33 477.80,355.00 477.88,355.66 478.12,356.31 478.46,356.93 478.85,357.54 479.25,358.13 479.60,358.70 479.93,359.26 480.29,359.81 480.64,360.34 480.99,360.86 481.32,361.34 481.60,361.80 481.84,362.23 482.05,362.62 482.24,362.99 482.40,363.34 482.56,363.68 482.70,364.00 482.84,364.32 482.96,364.64 483.07,364.94 483.16,365.21 483.24,365.43 483.30,365.60 483.90,365.60 483.96,365.43 484.04,365.21 484.13,364.94 484.24,364.64 484.36,364.32 484.50,364.00 484.64,363.68 484.80,363.34 484.96,362.99 485.15,362.62 485.36,362.23 485.60,361.80 485.88,361.34 486.21,360.86 486.56,360.34 486.91,359.81 487.27,359.26 487.60,358.70 487.95,358.13 488.35,357.54 488.74,356.93 489.08,356.31 489.32,355.66 489.40,355.00 489.30,354.33 489.06,353.65 488.71,352.96 488.31,352.23 487.89,351.45 487.50,350.60 487.11,349.66 486.67,348.62 486.22,347.53 485.79,346.44 485.40,345.38 485.10,344.40 484.89,343.47 484.76,342.56 484.68,341.68 484.63,340.86 484.57,340.13 484.50,339.50 484.41,338.99 484.31,338.57 484.21,338.24 484.13,337.98 484.05,337.77 484.00,337.60" fill="#f77cbb"/>
<line x1="483.60" y1="367.00" x2="483.60" y2="368.30" stroke="#555" stroke-width="0.6" />
<text x="0.00" y="0.00" font-size="4.55" text-anchor="end" fill="#222" font-family='"Liberation Sans", sans-serif' transform="translate(485.30,372.20) rotate(-45)" >HCMSevere</text>
<rect x="505.00" y="332.52" width="5.90" height="6.56" fill="#c8e5f9" stroke="#7a7a7a" stroke-width="0.5" />
<text x="0.00" y="0.00" font-size="4.5" text-anchor="start" fill="#474747" font-family='"Liberation Sans", sans-serif' transform="translate(513.40,337.70) scale(0.8067,1)" >CONTROL Normal</text>
<rect x="505.00" y="339.08" width="5.90" height="6.56" fill="#77bff2" stroke="#7a7a7a" stroke-width="0.5" />
<text x="0.00" y="0.00" font-size="4.5" text-anchor="start" fill="#474747" font-family='"Liberation Sans", sans-serif' transform="translate(513.40,344.26) scale(0.8067,1)" >HCM Normal</text>
<rect x="505.00" y="345.64" width="5.90" height="6.56" fill="#0d7edd" stroke="#7a7a7a" stroke-width="0.5" />
<text x="0.00" y="0.00" font-size="4.5" text-anchor="start" fill="#474747" font-family='"Liberation Sans", sans-serif' transform="translate(513.40,350.82) scale(0.8067,1)" >HCM Mild</text>
<rect x="505.00" y="352.20" width="5.90" height="6.56" fill="#fbc2df" stroke="#7a7a7a" stroke-width="0.5" />
<text x="0.00" y="0.00" font-size="4.5" text-anchor="start" fill="#474747" font-family='"Liberation Sans", sans-serif' transform="translate(513.40,357.38) scale(0.8067,1)" >HCM Moderate</text>
<rect x="505.00" y="358.76" width="5.90" height="6.56" fill="#f77cbb" stroke="#7a7a7a" stroke-width="0.5" />
<text x="0.00" y="0.00" font-size="4.5" text-anchor="start" fill="#474747" font-family='"Liberation Sans", sans-serif' transform="translate(513.40,363.94) scale(0.8067,1)" >HCM Severe</text>
</g>
</svg>
</body></html>
